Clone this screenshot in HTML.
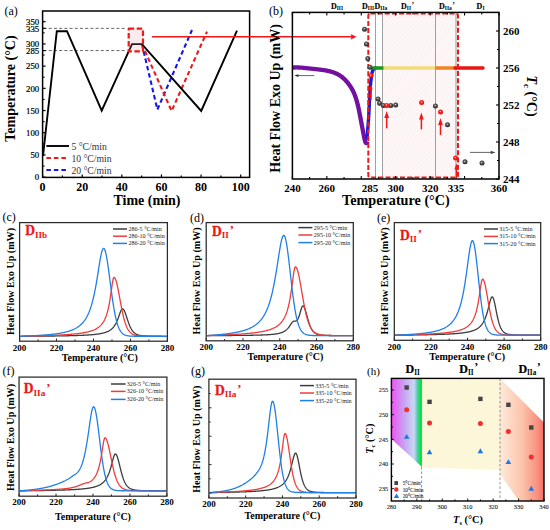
<!DOCTYPE html>
<html><head><meta charset="utf-8"><style>
html,body{margin:0;padding:0;background:#fff;}
body{width:550px;height:530px;overflow:hidden;}
svg{display:block;font-family:"Liberation Serif",serif;}
</style></head><body>
<svg width="550" height="530" viewBox="0 0 550 530">
<rect width="550" height="530" fill="#fff"/>
<line x1="43.60" y1="28.36" x2="125.00" y2="28.36" stroke="#555" stroke-width="0.9" stroke-dasharray="3,2.2"/>
<line x1="43.60" y1="50.57" x2="125.00" y2="50.57" stroke="#555" stroke-width="0.9" stroke-dasharray="3,2.2"/>
<polyline points="141.90,44.00 157.40,109.60 192.00,30.00" stroke="#1515f0" stroke-width="2.1" fill="none" stroke-dasharray="4.5,3"/>
<polyline points="141.90,44.00 171.60,111.00 207.00,31.60" stroke="#f01818" stroke-width="2.1" fill="none" stroke-dasharray="4.5,3"/>
<polyline points="43.00,156.00 56.80,31.20 67.00,31.20 101.70,110.60 132.00,44.10 141.90,44.10 201.20,111.00 237.00,30.60" stroke="#000" stroke-width="1.9" fill="none" stroke-linejoin="miter"/>
<rect x="128.7" y="28.7" width="14.3" height="22.6" fill="rgba(225,150,150,0.18)" stroke="#f01818" stroke-width="2.2" stroke-dasharray="5.5,2.5" stroke-linejoin="round"/>
<rect x="42.6" y="11.0" width="207.0" height="166.4" fill="none" stroke="#000" stroke-width="1.5"/>
<line x1="42.60" y1="177.40" x2="42.60" y2="174.40" stroke="#000" stroke-width="1.2" />
<line x1="62.41" y1="177.40" x2="62.41" y2="175.40" stroke="#000" stroke-width="1.2" />
<line x1="82.22" y1="177.40" x2="82.22" y2="174.40" stroke="#000" stroke-width="1.2" />
<line x1="102.03" y1="177.40" x2="102.03" y2="175.40" stroke="#000" stroke-width="1.2" />
<line x1="121.84" y1="177.40" x2="121.84" y2="174.40" stroke="#000" stroke-width="1.2" />
<line x1="141.65" y1="177.40" x2="141.65" y2="175.40" stroke="#000" stroke-width="1.2" />
<line x1="161.46" y1="177.40" x2="161.46" y2="174.40" stroke="#000" stroke-width="1.2" />
<line x1="181.27" y1="177.40" x2="181.27" y2="175.40" stroke="#000" stroke-width="1.2" />
<line x1="201.08" y1="177.40" x2="201.08" y2="174.40" stroke="#000" stroke-width="1.2" />
<line x1="220.89" y1="177.40" x2="220.89" y2="175.40" stroke="#000" stroke-width="1.2" />
<line x1="240.70" y1="177.40" x2="240.70" y2="174.40" stroke="#000" stroke-width="1.2" />
<text x="42.60" y="191.30" font-size="12" text-anchor="middle" font-weight="bold" fill="#000" >0</text>
<text x="82.22" y="191.30" font-size="12" text-anchor="middle" font-weight="bold" fill="#000" >20</text>
<text x="121.84" y="191.30" font-size="12" text-anchor="middle" font-weight="bold" fill="#000" >40</text>
<text x="161.46" y="191.30" font-size="12" text-anchor="middle" font-weight="bold" fill="#000" >60</text>
<text x="201.08" y="191.30" font-size="12" text-anchor="middle" font-weight="bold" fill="#000" >80</text>
<text x="240.70" y="191.30" font-size="12" text-anchor="middle" font-weight="bold" fill="#000" >100</text>
<line x1="42.60" y1="177.20" x2="45.60" y2="177.20" stroke="#000" stroke-width="1.2" />
<line x1="42.60" y1="154.98" x2="45.60" y2="154.98" stroke="#000" stroke-width="1.2" />
<line x1="42.60" y1="132.77" x2="45.60" y2="132.77" stroke="#000" stroke-width="1.2" />
<line x1="42.60" y1="110.55" x2="45.60" y2="110.55" stroke="#000" stroke-width="1.2" />
<line x1="42.60" y1="88.34" x2="45.60" y2="88.34" stroke="#000" stroke-width="1.2" />
<line x1="42.60" y1="66.12" x2="45.60" y2="66.12" stroke="#000" stroke-width="1.2" />
<line x1="42.60" y1="50.57" x2="45.60" y2="50.57" stroke="#000" stroke-width="1.2" />
<line x1="42.60" y1="43.91" x2="45.60" y2="43.91" stroke="#000" stroke-width="1.2" />
<line x1="42.60" y1="28.36" x2="45.60" y2="28.36" stroke="#000" stroke-width="1.2" />
<line x1="42.60" y1="21.69" x2="45.60" y2="21.69" stroke="#000" stroke-width="1.2" />
<line x1="42.60" y1="166.09" x2="44.60" y2="166.09" stroke="#000" stroke-width="1.1" />
<line x1="42.60" y1="143.88" x2="44.60" y2="143.88" stroke="#000" stroke-width="1.1" />
<line x1="42.60" y1="121.66" x2="44.60" y2="121.66" stroke="#000" stroke-width="1.1" />
<line x1="42.60" y1="99.45" x2="44.60" y2="99.45" stroke="#000" stroke-width="1.1" />
<line x1="42.60" y1="77.23" x2="44.60" y2="77.23" stroke="#000" stroke-width="1.1" />
<line x1="42.60" y1="55.02" x2="44.60" y2="55.02" stroke="#000" stroke-width="1.1" />
<line x1="42.60" y1="32.80" x2="44.60" y2="32.80" stroke="#000" stroke-width="1.1" />
<text x="39.20" y="179.90" font-size="8.8" text-anchor="end" font-weight="normal" fill="#000" stroke="#000" stroke-width="0.2">0</text>
<text x="39.20" y="158.40" font-size="8.8" text-anchor="end" font-weight="normal" fill="#000" stroke="#000" stroke-width="0.2">50</text>
<text x="39.20" y="136.00" font-size="8.8" text-anchor="end" font-weight="normal" fill="#000" stroke="#000" stroke-width="0.2">100</text>
<text x="39.20" y="113.60" font-size="8.8" text-anchor="end" font-weight="normal" fill="#000" stroke="#000" stroke-width="0.2">150</text>
<text x="39.20" y="91.60" font-size="8.8" text-anchor="end" font-weight="normal" fill="#000" stroke="#000" stroke-width="0.2">200</text>
<text x="39.20" y="69.40" font-size="8.8" text-anchor="end" font-weight="normal" fill="#000" stroke="#000" stroke-width="0.2">250</text>
<text x="39.20" y="47.00" font-size="8.8" text-anchor="end" font-weight="normal" fill="#000" stroke="#000" stroke-width="0.2">300</text>
<text x="39.20" y="54.00" font-size="8.8" text-anchor="end" font-weight="normal" fill="#000" stroke="#000" stroke-width="0.2">285</text>
<text x="39.20" y="24.60" font-size="8.8" text-anchor="end" font-weight="normal" fill="#000" stroke="#000" stroke-width="0.2">350</text>
<text x="39.20" y="31.60" font-size="8.8" text-anchor="end" font-weight="normal" fill="#000" stroke="#000" stroke-width="0.2">335</text>
<text transform="translate(15.3,88.6) rotate(-90)" font-size="14" font-weight="bold" text-anchor="middle">Temperature (°C)</text>
<text x="147.00" y="204.50" font-size="14" text-anchor="middle" font-weight="bold" fill="#000" >Time (min)</text>
<text x="4.40" y="15.40" font-size="12" text-anchor="start" font-weight="normal" fill="#000" >(a)</text>
<line x1="46.40" y1="146.00" x2="69.00" y2="146.00" stroke="#000" stroke-width="1.9" />
<line x1="46.40" y1="158.00" x2="66.00" y2="158.00" stroke="#f01818" stroke-width="2.1" stroke-dasharray="4.5,3"/>
<line x1="46.40" y1="170.00" x2="66.00" y2="170.00" stroke="#1515f0" stroke-width="2.1" stroke-dasharray="4.5,3"/>
<text x="71.40" y="149.60" font-size="9.7" text-anchor="start" font-weight="normal" fill="#333" >5 °C/min</text>
<text x="71.40" y="161.60" font-size="9.7" text-anchor="start" font-weight="normal" fill="#333" >10 °C/min</text>
<text x="71.40" y="173.60" font-size="9.7" text-anchor="start" font-weight="normal" fill="#333" >20 °C/min</text>
<line x1="152.00" y1="36.80" x2="353.00" y2="36.80" stroke="#f01818" stroke-width="1.4" />
<path d="M356.5,36.8 L350.5,33.9 L351.8,36.8 L350.5,39.7 Z" fill="#f01818"/>
<defs><pattern id="hatch" patternUnits="userSpaceOnUse" width="3" height="3" patternTransform="rotate(45)"><rect width="3" height="3" fill="#fef8f8"/><line x1="0" y1="0" x2="0" y2="3" stroke="#fbe8e8" stroke-width="1.1"/></pattern><radialGradient id="ball" cx="0.35" cy="0.35" r="0.7"><stop offset="0" stop-color="#cfcfcf"/><stop offset="0.45" stop-color="#4a4a4a"/><stop offset="1" stop-color="#222"/></radialGradient><radialGradient id="rball" cx="0.35" cy="0.35" r="0.7"><stop offset="0" stop-color="#ffd0d0"/><stop offset="0.45" stop-color="#f01818"/><stop offset="1" stop-color="#c00"/></radialGradient></defs>
<rect x="382" y="13.6" width="75" height="164" fill="url(#hatch)"/>
<line x1="375.50" y1="12.40" x2="375.50" y2="179.00" stroke="#a0a0a0" stroke-width="1" />
<line x1="382.50" y1="12.40" x2="382.50" y2="179.00" stroke="#a0a0a0" stroke-width="1" />
<line x1="435.50" y1="12.40" x2="435.50" y2="179.00" stroke="#a0a0a0" stroke-width="1" />
<line x1="456.00" y1="12.40" x2="456.00" y2="179.00" stroke="#c8c8c8" stroke-width="2" />
<polyline points="292.40,67.50 294.00,67.50 294.38,67.50 294.80,67.48 295.29,67.46 295.88,67.44 296.61,67.44 297.52,67.46 298.64,67.51 300.00,67.60 301.69,67.73 303.72,67.89 305.99,68.08 308.43,68.29 310.92,68.52 313.39,68.77 315.75,69.03 317.90,69.30 319.90,69.58 321.87,69.86 323.79,70.16 325.66,70.48 327.45,70.81 329.16,71.17 330.78,71.57 332.30,72.00 333.70,72.46 334.97,72.94 336.15,73.44 337.26,73.97 338.30,74.54 339.31,75.14 340.30,75.80 341.30,76.50 342.29,77.26 343.25,78.07 344.18,78.92 345.07,79.82 345.95,80.75 346.79,81.71 347.61,82.70 348.40,83.70 349.17,84.73 349.91,85.78 350.63,86.87 351.32,87.98 351.98,89.12 352.62,90.29 353.22,91.48 353.80,92.70 354.34,93.94 354.85,95.21 355.32,96.50 355.77,97.83 356.20,99.17 356.61,100.55 357.01,101.96 357.40,103.40 357.78,104.87 358.14,106.38 358.48,107.91 358.81,109.48 359.13,111.07 359.45,112.69 359.77,114.33 360.10,116.00 360.44,117.73 360.79,119.54 361.13,121.40 361.48,123.27 361.82,125.13 362.16,126.94 362.49,128.67 362.80,130.30 363.10,131.87 363.40,133.43 363.69,134.95 363.97,136.41 364.24,137.77 364.50,139.01 364.76,140.09 365.00,141.00 365.23,141.71 365.46,142.24 365.67,142.62 365.88,142.87 366.07,143.03 366.26,143.12 366.43,143.17 366.60,143.20 366.76,143.16 366.92,143.01 367.06,142.77 367.20,142.49 367.32,142.18 367.43,141.90 367.53,141.66 367.60,141.50" stroke="#7410a0" stroke-width="4.3" fill="none" stroke-linecap="butt" stroke-linejoin="round"/>
<polyline points="367.00,138.00 367.12,136.50 367.29,134.57 367.49,132.27 367.71,129.69 367.94,126.89 368.18,123.96 368.40,120.97 368.60,118.00 368.78,114.89 368.96,111.49 369.13,107.92 369.29,104.27 369.46,100.65 369.63,97.16 369.81,93.91 370.00,91.00 370.20,88.38 370.40,85.92 370.61,83.62 370.82,81.50 371.04,79.54 371.26,77.76 371.48,76.14 371.70,74.70 371.92,73.48 372.14,72.49 372.36,71.70 372.58,71.06 372.81,70.55 373.03,70.11 373.26,69.70 373.50,69.30 373.75,68.93 374.03,68.66 374.32,68.46 374.61,68.31 374.89,68.21 375.14,68.14 375.34,68.07 375.50,68.00" stroke="#1818e0" stroke-width="3.4" fill="none" stroke-linecap="round"/>
<line x1="373.50" y1="68.00" x2="383.40" y2="68.00" stroke="#179a17" stroke-width="3.5" stroke-linecap="round"/>
<line x1="383.40" y1="68.00" x2="435.00" y2="68.00" stroke="#f0dc78" stroke-width="3.5" />
<line x1="435.00" y1="68.00" x2="455.00" y2="68.00" stroke="#f08420" stroke-width="3.5" />
<line x1="455.00" y1="68.00" x2="483.00" y2="68.00" stroke="#e81414" stroke-width="3.5" stroke-linecap="round"/>
<rect x="368.3" y="13.6" width="89.7" height="164" fill="none" stroke="#f01818" stroke-width="2" stroke-dasharray="5,2.2" rx="2"/>
<defs><radialGradient id="ball2" cx="0.45" cy="0.4" r="0.6"><stop offset="0" stop-color="#e8e8e8"/><stop offset="0.3" stop-color="#606060"/><stop offset="1" stop-color="#262626"/></radialGradient><radialGradient id="rball2" cx="0.45" cy="0.4" r="0.6"><stop offset="0" stop-color="#ffe8e8"/><stop offset="0.3" stop-color="#f53030"/><stop offset="1" stop-color="#e00"/></radialGradient></defs>
<circle cx="364.5" cy="29.2" r="2.5" fill="url(#ball2)"/>
<circle cx="366.4" cy="43.9" r="2.5" fill="url(#ball2)"/>
<circle cx="367.8" cy="58.6" r="2.5" fill="url(#ball2)"/>
<circle cx="370" cy="67.2" r="2.5" fill="url(#ball2)"/>
<circle cx="378" cy="99" r="2.5" fill="url(#ball2)"/>
<circle cx="379.6" cy="103.2" r="2.5" fill="url(#ball2)"/>
<circle cx="383.3" cy="105.4" r="2.5" fill="url(#ball2)"/>
<circle cx="390.8" cy="105.4" r="2.5" fill="url(#ball2)"/>
<circle cx="395.7" cy="105" r="2.5" fill="url(#ball2)"/>
<circle cx="435.4" cy="106" r="2.5" fill="url(#ball2)"/>
<circle cx="447.5" cy="124.7" r="2.5" fill="url(#ball2)"/>
<circle cx="465" cy="161.8" r="2.5" fill="url(#ball2)"/>
<circle cx="482" cy="163" r="2.5" fill="url(#ball2)"/>
<circle cx="370.9" cy="75.6" r="2.5" fill="url(#rball2)"/>
<circle cx="386.7" cy="105.4" r="2.5" fill="url(#rball2)"/>
<circle cx="421.6" cy="102.5" r="2.5" fill="url(#rball2)"/>
<circle cx="440.5" cy="112" r="2.5" fill="url(#rball2)"/>
<circle cx="455.6" cy="158" r="2.5" fill="url(#rball2)"/>
<line x1="370.90" y1="100.00" x2="370.90" y2="89.10" stroke="#f01818" stroke-width="1.5" />
<path d="M370.9,84.6 L369.09999999999997,89.6 L372.7,89.6 Z" fill="#f01818"/>
<line x1="386.70" y1="128.40" x2="386.70" y2="117.50" stroke="#f01818" stroke-width="1.5" />
<path d="M386.7,111 L384.3,118 L389.09999999999997,118 Z" fill="#f01818"/>
<line x1="421.40" y1="129.40" x2="421.40" y2="118.90" stroke="#f01818" stroke-width="1.5" />
<path d="M421.4,112.4 L419.0,119.4 L423.79999999999995,119.4 Z" fill="#f01818"/>
<line x1="440.50" y1="135.00" x2="440.50" y2="124.50" stroke="#f01818" stroke-width="1.5" />
<path d="M440.5,118 L438.1,125 L442.9,125 Z" fill="#f01818"/>
<line x1="456.40" y1="178.00" x2="456.40" y2="169.00" stroke="#f01818" stroke-width="1.5" />
<path d="M456.4,163.5 L454.4,169.5 L458.4,169.5 Z" fill="#f01818"/>
<line x1="298.00" y1="75.60" x2="314.30" y2="75.60" stroke="#555" stroke-width="0.9" />
<path d="M294.4,75.6 L298.4,74.2 L298.4,77.0 Z" fill="#222"/>
<line x1="470.00" y1="152.40" x2="492.00" y2="152.40" stroke="#555" stroke-width="0.9" />
<path d="M495.5,152.4 L490.7,150.7 L490.7,154.1 Z" fill="#444"/>
<rect x="292.4" y="12.4" width="206.60000000000002" height="166.6" fill="none" stroke="#000" stroke-width="1.5"/>
<line x1="292.40" y1="179.00" x2="292.40" y2="176.00" stroke="#000" stroke-width="1.1" />
<line x1="292.40" y1="12.40" x2="292.40" y2="15.40" stroke="#000" stroke-width="1.1" />
<line x1="309.62" y1="179.00" x2="309.62" y2="177.00" stroke="#000" stroke-width="1.1" />
<line x1="309.62" y1="12.40" x2="309.62" y2="14.40" stroke="#000" stroke-width="1.1" />
<line x1="326.83" y1="179.00" x2="326.83" y2="176.00" stroke="#000" stroke-width="1.1" />
<line x1="326.83" y1="12.40" x2="326.83" y2="15.40" stroke="#000" stroke-width="1.1" />
<line x1="344.05" y1="179.00" x2="344.05" y2="177.00" stroke="#000" stroke-width="1.1" />
<line x1="344.05" y1="12.40" x2="344.05" y2="14.40" stroke="#000" stroke-width="1.1" />
<line x1="361.27" y1="179.00" x2="361.27" y2="176.00" stroke="#000" stroke-width="1.1" />
<line x1="361.27" y1="12.40" x2="361.27" y2="15.40" stroke="#000" stroke-width="1.1" />
<line x1="378.48" y1="179.00" x2="378.48" y2="177.00" stroke="#000" stroke-width="1.1" />
<line x1="378.48" y1="12.40" x2="378.48" y2="14.40" stroke="#000" stroke-width="1.1" />
<line x1="395.70" y1="179.00" x2="395.70" y2="176.00" stroke="#000" stroke-width="1.1" />
<line x1="395.70" y1="12.40" x2="395.70" y2="15.40" stroke="#000" stroke-width="1.1" />
<line x1="412.92" y1="179.00" x2="412.92" y2="177.00" stroke="#000" stroke-width="1.1" />
<line x1="412.92" y1="12.40" x2="412.92" y2="14.40" stroke="#000" stroke-width="1.1" />
<line x1="430.14" y1="179.00" x2="430.14" y2="176.00" stroke="#000" stroke-width="1.1" />
<line x1="430.14" y1="12.40" x2="430.14" y2="15.40" stroke="#000" stroke-width="1.1" />
<line x1="447.35" y1="179.00" x2="447.35" y2="177.00" stroke="#000" stroke-width="1.1" />
<line x1="447.35" y1="12.40" x2="447.35" y2="14.40" stroke="#000" stroke-width="1.1" />
<line x1="464.57" y1="179.00" x2="464.57" y2="176.00" stroke="#000" stroke-width="1.1" />
<line x1="464.57" y1="12.40" x2="464.57" y2="15.40" stroke="#000" stroke-width="1.1" />
<line x1="481.79" y1="179.00" x2="481.79" y2="177.00" stroke="#000" stroke-width="1.1" />
<line x1="481.79" y1="12.40" x2="481.79" y2="14.40" stroke="#000" stroke-width="1.1" />
<line x1="499.00" y1="179.00" x2="499.00" y2="176.00" stroke="#000" stroke-width="1.1" />
<line x1="499.00" y1="12.40" x2="499.00" y2="15.40" stroke="#000" stroke-width="1.1" />
<text x="292.40" y="192.00" font-size="11" text-anchor="middle" font-weight="bold" fill="#000" >240</text>
<text x="326.83" y="192.00" font-size="11" text-anchor="middle" font-weight="bold" fill="#000" >260</text>
<text x="369.88" y="192.00" font-size="11" text-anchor="middle" font-weight="bold" fill="#000" >285</text>
<text x="395.70" y="192.00" font-size="11" text-anchor="middle" font-weight="bold" fill="#000" >300</text>
<text x="430.14" y="192.00" font-size="11" text-anchor="middle" font-weight="bold" fill="#000" >320</text>
<text x="455.96" y="192.00" font-size="11" text-anchor="middle" font-weight="bold" fill="#000" >335</text>
<text x="499.00" y="192.00" font-size="11" text-anchor="middle" font-weight="bold" fill="#000" >360</text>
<line x1="499.00" y1="179.00" x2="496.00" y2="179.00" stroke="#000" stroke-width="1.1" />
<line x1="499.00" y1="160.50" x2="497.00" y2="160.50" stroke="#000" stroke-width="1.1" />
<line x1="499.00" y1="142.00" x2="496.00" y2="142.00" stroke="#000" stroke-width="1.1" />
<line x1="499.00" y1="123.50" x2="497.00" y2="123.50" stroke="#000" stroke-width="1.1" />
<line x1="499.00" y1="105.00" x2="496.00" y2="105.00" stroke="#000" stroke-width="1.1" />
<line x1="499.00" y1="86.50" x2="497.00" y2="86.50" stroke="#000" stroke-width="1.1" />
<line x1="499.00" y1="68.00" x2="496.00" y2="68.00" stroke="#000" stroke-width="1.1" />
<line x1="499.00" y1="49.50" x2="497.00" y2="49.50" stroke="#000" stroke-width="1.1" />
<line x1="499.00" y1="31.00" x2="496.00" y2="31.00" stroke="#000" stroke-width="1.1" />
<line x1="499.00" y1="12.50" x2="497.00" y2="12.50" stroke="#000" stroke-width="1.1" />
<text x="503.00" y="183.00" font-size="11" text-anchor="start" font-weight="bold" fill="#000" >244</text>
<text x="503.00" y="146.00" font-size="11" text-anchor="start" font-weight="bold" fill="#000" >248</text>
<text x="503.00" y="109.00" font-size="11" text-anchor="start" font-weight="bold" fill="#000" >252</text>
<text x="503.00" y="72.00" font-size="11" text-anchor="start" font-weight="bold" fill="#000" >256</text>
<text x="503.00" y="35.00" font-size="11" text-anchor="start" font-weight="bold" fill="#000" >260</text>
<text transform="translate(279.6,98.4) rotate(-90)" font-size="14" font-weight="bold" text-anchor="middle">Heat Flow Exo Up (mW)</text>
<text transform="translate(526.5,96) rotate(90)" font-size="14" font-weight="bold" text-anchor="middle"><tspan font-style="italic">T</tspan><tspan font-size="9" dy="3">c</tspan><tspan dy="-3"> (°C)</tspan></text>
<text x="395.90" y="205.30" font-size="14.2" text-anchor="middle" font-weight="bold" fill="#000" >Temperature (°C)</text>
<text x="269.10" y="15.20" font-size="12" text-anchor="start" font-weight="normal" fill="#000" >(b)</text>
<text transform="translate(330.9,8.7) scale(1,1.03)" font-size="8" font-weight="bold" fill="#000" stroke="#000" stroke-width="0.16">D</text>
<text x="336.68" y="10.30" font-size="5.44" font-weight="bold" fill="#000">III</text>
<text transform="translate(362,8.7) scale(1,1.03)" font-size="8" font-weight="bold" fill="#000" stroke="#000" stroke-width="0.16">D</text>
<text x="367.78" y="10.30" font-size="5.44" font-weight="bold" fill="#000">III</text>
<text transform="translate(374.5,8.7) scale(1,1.03)" font-size="8" font-weight="bold" fill="#000" stroke="#000" stroke-width="0.16">D</text>
<text x="380.28" y="10.30" font-size="5.44" font-weight="bold" fill="#000">IIa</text>
<text transform="translate(401,8.7) scale(1,1.03)" font-size="8" font-weight="bold" fill="#000" stroke="#000" stroke-width="0.16">D</text>
<text x="406.78" y="10.30" font-size="5.44" font-weight="bold" fill="#000">II</text>
<text x="411.41" y="7.90" font-size="8" font-weight="bold" fill="#000">’</text>
<text transform="translate(439,8.7) scale(1,1.03)" font-size="8" font-weight="bold" fill="#000" stroke="#000" stroke-width="0.16">D</text>
<text x="444.78" y="10.30" font-size="5.44" font-weight="bold" fill="#000">IIa</text>
<text x="452.13" y="7.90" font-size="8" font-weight="bold" fill="#000">’</text>
<text transform="translate(476.6,8.7) scale(1,1.03)" font-size="8" font-weight="bold" fill="#000" stroke="#000" stroke-width="0.16">D</text>
<text x="482.38" y="10.30" font-size="5.44" font-weight="bold" fill="#000">I</text>
<polyline points="20.34,336.30 20.80,336.30 21.26,336.29 21.72,336.29 22.19,336.29 22.65,336.28 23.11,336.28 23.57,336.28 24.03,336.28 24.50,336.27 24.96,336.27 25.42,336.27 25.88,336.26 26.34,336.26 26.81,336.26 27.27,336.25 27.73,336.25 28.19,336.25 28.65,336.24 29.11,336.24 29.58,336.24 30.04,336.23 30.50,336.23 30.96,336.22 31.42,336.22 31.89,336.22 32.35,336.21 32.81,336.21 33.27,336.21 33.73,336.20 34.20,336.20 34.66,336.19 35.12,336.19 35.58,336.19 36.04,336.18 36.50,336.18 36.97,336.18 37.43,336.17 37.89,336.17 38.35,336.16 38.81,336.16 39.28,336.15 39.74,336.15 40.20,336.15 40.66,336.14 41.12,336.14 41.59,336.13 42.05,336.13 42.51,336.12 42.97,336.12 43.43,336.11 43.89,336.11 44.36,336.10 44.82,336.10 45.28,336.09 45.74,336.09 46.20,336.09 46.67,336.08 47.13,336.07 47.59,336.07 48.05,336.06 48.51,336.06 48.98,336.05 49.44,336.05 49.90,336.04 50.36,336.04 50.82,336.03 51.28,336.03 51.75,336.02 52.21,336.01 52.67,336.01 53.13,336.00 53.59,336.00 54.06,335.99 54.52,335.98 54.98,335.98 55.44,335.97 55.90,335.96 56.37,335.96 56.83,335.95 57.29,335.94 57.75,335.94 58.21,335.93 58.67,335.92 59.14,335.92 59.60,335.91 60.06,335.90 60.52,335.89 60.98,335.89 61.45,335.88 61.91,335.87 62.37,335.86 62.83,335.85 63.29,335.84 63.76,335.84 64.22,335.83 64.68,335.82 65.14,335.81 65.60,335.80 66.06,335.79 66.53,335.78 66.99,335.77 67.45,335.76 67.91,335.75 68.37,335.74 68.84,335.73 69.30,335.72 69.76,335.71 70.22,335.70 70.68,335.69 71.15,335.68 71.61,335.66 72.07,335.65 72.53,335.64 72.99,335.63 73.45,335.61 73.92,335.60 74.38,335.59 74.84,335.57 75.30,335.56 75.76,335.55 76.23,335.53 76.69,335.52 77.15,335.50 77.61,335.48 78.07,335.47 78.54,335.45 79.00,335.44 79.46,335.42 79.92,335.40 80.38,335.38 80.84,335.36 81.31,335.34 81.77,335.32 82.23,335.30 82.69,335.28 83.15,335.26 83.62,335.24 84.08,335.22 84.54,335.19 85.00,335.17 85.46,335.15 85.93,335.12 86.39,335.09 86.85,335.07 87.31,335.04 87.77,335.01 88.23,334.98 88.70,334.95 89.16,334.92 89.62,334.89 90.08,334.85 90.54,334.82 91.01,334.78 91.47,334.74 91.93,334.71 92.39,334.66 92.85,334.62 93.32,334.58 93.78,334.53 94.24,334.49 94.70,334.44 95.16,334.39 95.62,334.34 96.09,334.28 96.55,334.22 97.01,334.16 97.47,334.10 97.93,334.04 98.40,333.97 98.86,333.90 99.32,333.82 99.78,333.75 100.24,333.66 100.71,333.58 101.17,333.49 101.63,333.39 102.09,333.29 102.55,333.19 103.01,333.08 103.48,332.96 103.94,332.83 104.40,332.70 104.86,332.56 105.32,332.41 105.79,332.26 106.25,332.09 106.71,331.91 107.17,331.72 107.63,331.52 108.10,331.30 108.56,331.07 109.02,330.82 109.48,330.55 109.94,330.27 110.40,329.96 110.87,329.62 111.33,329.26 111.79,328.86 112.25,328.44 112.71,327.98 113.18,327.47 113.64,326.92 114.10,326.33 114.56,325.68 115.02,324.96 115.49,324.19 115.95,323.34 116.41,322.42 116.87,321.43 117.33,320.35 117.79,319.19 118.26,317.97 118.72,316.68 119.18,315.36 119.64,314.03 120.10,312.73 120.57,311.53 121.03,310.47 121.49,309.64 121.95,309.08 122.41,308.85 122.88,308.93 123.34,309.26 123.80,309.84 124.26,310.64 124.72,311.62 125.18,312.77 125.65,314.04 126.11,315.40 126.57,316.81 127.03,318.24 127.49,319.66 127.96,321.04 128.42,322.38 128.88,323.65 129.34,324.84 129.80,325.96 130.27,326.99 130.73,327.93 131.19,328.79 131.65,329.58 132.11,330.28 132.57,330.92 133.04,331.49 133.50,332.01 133.96,332.46 134.42,332.87 134.88,333.24 135.35,333.56 135.81,333.85 136.27,334.10 136.73,334.33 137.19,334.54 137.66,334.72 138.12,334.88 138.58,335.02 139.04,335.15 139.50,335.26 139.96,335.36 140.43,335.45 140.89,335.53 141.35,335.60 141.81,335.67 142.27,335.73 142.74,335.78 143.20,335.83 143.66,335.87 144.12,335.91 144.58,335.94 145.05,335.97 145.51,336.00 145.97,336.02 146.43,336.05 146.89,336.07 147.35,336.09 147.82,336.10 148.28,336.12 148.74,336.13 149.20,336.15 149.66,336.16 150.13,336.17 150.59,336.18 151.05,336.19 151.51,336.20 151.97,336.20 152.44,336.21 152.90,336.22 153.36,336.22 153.82,336.23 154.28,336.23 154.74,336.24 155.21,336.24 155.67,336.25 156.13,336.25 156.59,336.25 157.05,336.25 157.52,336.26 157.98,336.26 158.44,336.26 158.90,336.27 159.36,336.27 159.83,336.27 160.29,336.27 160.75,336.27 161.21,336.27 161.67,336.28 162.13,336.28 162.60,336.28 163.06,336.28 163.52,336.28 163.98,336.28 164.44,336.28 164.91,336.28 165.37,336.28 165.83,336.29 166.29,336.29 166.75,336.29" stroke="#3c3c3c" stroke-width="1.3" fill="none" stroke-linejoin="round"/>
<polyline points="20.34,336.30 20.80,336.29 21.26,336.28 21.72,336.27 22.19,336.26 22.65,336.25 23.11,336.24 23.57,336.23 24.03,336.22 24.50,336.21 24.96,336.20 25.42,336.19 25.88,336.18 26.34,336.17 26.81,336.16 27.27,336.14 27.73,336.13 28.19,336.12 28.65,336.11 29.11,336.10 29.58,336.09 30.04,336.08 30.50,336.07 30.96,336.05 31.42,336.04 31.89,336.03 32.35,336.02 32.81,336.01 33.27,335.99 33.73,335.98 34.20,335.97 34.66,335.96 35.12,335.94 35.58,335.93 36.04,335.92 36.50,335.91 36.97,335.89 37.43,335.88 37.89,335.87 38.35,335.85 38.81,335.84 39.28,335.83 39.74,335.81 40.20,335.80 40.66,335.78 41.12,335.77 41.59,335.76 42.05,335.74 42.51,335.73 42.97,335.71 43.43,335.70 43.89,335.68 44.36,335.67 44.82,335.65 45.28,335.63 45.74,335.62 46.20,335.60 46.67,335.59 47.13,335.57 47.59,335.55 48.05,335.54 48.51,335.52 48.98,335.50 49.44,335.48 49.90,335.47 50.36,335.45 50.82,335.43 51.28,335.41 51.75,335.39 52.21,335.37 52.67,335.36 53.13,335.34 53.59,335.32 54.06,335.30 54.52,335.28 54.98,335.26 55.44,335.23 55.90,335.21 56.37,335.19 56.83,335.17 57.29,335.15 57.75,335.12 58.21,335.10 58.67,335.08 59.14,335.06 59.60,335.03 60.06,335.01 60.52,334.98 60.98,334.96 61.45,334.93 61.91,334.91 62.37,334.88 62.83,334.85 63.29,334.82 63.76,334.80 64.22,334.77 64.68,334.74 65.14,334.71 65.60,334.68 66.06,334.65 66.53,334.62 66.99,334.59 67.45,334.55 67.91,334.52 68.37,334.49 68.84,334.45 69.30,334.42 69.76,334.38 70.22,334.34 70.68,334.30 71.15,334.27 71.61,334.23 72.07,334.19 72.53,334.15 72.99,334.10 73.45,334.06 73.92,334.02 74.38,333.97 74.84,333.92 75.30,333.88 75.76,333.83 76.23,333.78 76.69,333.73 77.15,333.67 77.61,333.62 78.07,333.56 78.54,333.51 79.00,333.45 79.46,333.39 79.92,333.33 80.38,333.26 80.84,333.20 81.31,333.13 81.77,333.06 82.23,332.99 82.69,332.91 83.15,332.83 83.62,332.75 84.08,332.67 84.54,332.59 85.00,332.50 85.46,332.41 85.93,332.32 86.39,332.22 86.85,332.12 87.31,332.01 87.77,331.90 88.23,331.79 88.70,331.67 89.16,331.55 89.62,331.42 90.08,331.29 90.54,331.15 91.01,331.00 91.47,330.85 91.93,330.69 92.39,330.53 92.85,330.35 93.32,330.17 93.78,329.98 94.24,329.78 94.70,329.57 95.16,329.35 95.62,329.11 96.09,328.86 96.55,328.60 97.01,328.33 97.47,328.03 97.93,327.72 98.40,327.39 98.86,327.04 99.32,326.66 99.78,326.26 100.24,325.83 100.71,325.37 101.17,324.88 101.63,324.35 102.09,323.77 102.55,323.16 103.01,322.49 103.48,321.76 103.94,320.97 104.40,320.11 104.86,319.17 105.32,318.13 105.79,317.00 106.25,315.76 106.71,314.38 107.17,312.87 107.63,311.19 108.10,309.33 108.56,307.28 109.02,305.01 109.48,302.51 109.94,299.78 110.40,296.82 110.87,293.67 111.33,290.39 111.79,287.10 112.25,283.95 112.71,281.17 113.18,279.00 113.64,277.69 114.10,277.37 114.56,277.62 115.02,278.21 115.49,279.13 115.95,280.36 116.41,281.88 116.87,283.66 117.33,285.66 117.79,287.84 118.26,290.17 118.72,292.61 119.18,295.12 119.64,297.66 120.10,300.22 120.57,302.74 121.03,305.22 121.49,307.63 121.95,309.94 122.41,312.15 122.88,314.25 123.34,316.22 123.80,318.07 124.26,319.79 124.72,321.39 125.18,322.86 125.65,324.20 126.11,325.44 126.57,326.56 127.03,327.58 127.49,328.50 127.96,329.34 128.42,330.09 128.88,330.76 129.34,331.37 129.80,331.91 130.27,332.39 130.73,332.83 131.19,333.21 131.65,333.55 132.11,333.86 132.57,334.13 133.04,334.37 133.50,334.59 133.96,334.78 134.42,334.95 134.88,335.10 135.35,335.23 135.81,335.35 136.27,335.45 136.73,335.54 137.19,335.63 137.66,335.70 138.12,335.76 138.58,335.82 139.04,335.87 139.50,335.92 139.96,335.96 140.43,335.99 140.89,336.03 141.35,336.05 141.81,336.08 142.27,336.10 142.74,336.12 143.20,336.14 143.66,336.16 144.12,336.17 144.58,336.18 145.05,336.20 145.51,336.21 145.97,336.21 146.43,336.22 146.89,336.23 147.35,336.24 147.82,336.24 148.28,336.25 148.74,336.25 149.20,336.26 149.66,336.26 150.13,336.26 150.59,336.27 151.05,336.27 151.51,336.27 151.97,336.28 152.44,336.28 152.90,336.28 153.36,336.28 153.82,336.28 154.28,336.28 154.74,336.29 155.21,336.29 155.67,336.29 156.13,336.29 156.59,336.29 157.05,336.29 157.52,336.29 157.98,336.29 158.44,336.29 158.90,336.29 159.36,336.29 159.83,336.29 160.29,336.29 160.75,336.30 161.21,336.30 161.67,336.30 162.13,336.30 162.60,336.30 163.06,336.30 163.52,336.30 163.98,336.30 164.44,336.30 164.91,336.30 165.37,336.30 165.83,336.30 166.29,336.30 166.75,336.30" stroke="#f03c3c" stroke-width="1.3" fill="none" stroke-linejoin="round"/>
<polyline points="20.34,336.30 20.80,336.28 21.26,336.27 21.72,336.25 22.19,336.23 22.65,336.21 23.11,336.20 23.57,336.18 24.03,336.16 24.50,336.14 24.96,336.12 25.42,336.10 25.88,336.08 26.34,336.06 26.81,336.04 27.27,336.02 27.73,336.00 28.19,335.98 28.65,335.96 29.11,335.94 29.58,335.92 30.04,335.90 30.50,335.88 30.96,335.86 31.42,335.83 31.89,335.81 32.35,335.79 32.81,335.76 33.27,335.74 33.73,335.72 34.20,335.69 34.66,335.67 35.12,335.64 35.58,335.61 36.04,335.59 36.50,335.56 36.97,335.53 37.43,335.51 37.89,335.48 38.35,335.45 38.81,335.42 39.28,335.39 39.74,335.36 40.20,335.33 40.66,335.30 41.12,335.27 41.59,335.24 42.05,335.21 42.51,335.17 42.97,335.14 43.43,335.11 43.89,335.07 44.36,335.04 44.82,335.00 45.28,334.96 45.74,334.92 46.20,334.89 46.67,334.85 47.13,334.81 47.59,334.77 48.05,334.72 48.51,334.68 48.98,334.64 49.44,334.59 49.90,334.55 50.36,334.50 50.82,334.45 51.28,334.40 51.75,334.35 52.21,334.30 52.67,334.25 53.13,334.20 53.59,334.14 54.06,334.09 54.52,334.03 54.98,333.97 55.44,333.91 55.90,333.85 56.37,333.79 56.83,333.72 57.29,333.66 57.75,333.59 58.21,333.52 58.67,333.45 59.14,333.37 59.60,333.30 60.06,333.22 60.52,333.14 60.98,333.06 61.45,332.97 61.91,332.88 62.37,332.79 62.83,332.70 63.29,332.60 63.76,332.51 64.22,332.40 64.68,332.30 65.14,332.19 65.60,332.08 66.06,331.96 66.53,331.85 66.99,331.72 67.45,331.59 67.91,331.46 68.37,331.33 68.84,331.19 69.30,331.04 69.76,330.89 70.22,330.73 70.68,330.57 71.15,330.40 71.61,330.22 72.07,330.04 72.53,329.85 72.99,329.66 73.45,329.45 73.92,329.24 74.38,329.02 74.84,328.79 75.30,328.55 75.76,328.29 76.23,328.03 76.69,327.76 77.15,327.47 77.61,327.17 78.07,326.86 78.54,326.54 79.00,326.19 79.46,325.84 79.92,325.46 80.38,325.07 80.84,324.65 81.31,324.22 81.77,323.76 82.23,323.28 82.69,322.77 83.15,322.24 83.62,321.68 84.08,321.09 84.54,320.46 85.00,319.80 85.46,319.10 85.93,318.37 86.39,317.59 86.85,316.76 87.31,315.88 87.77,314.96 88.23,313.97 88.70,312.93 89.16,311.82 89.62,310.65 90.08,309.40 90.54,308.08 91.01,306.67 91.47,305.17 91.93,303.59 92.39,301.90 92.85,300.12 93.32,298.23 93.78,296.23 94.24,294.11 94.70,291.88 95.16,289.54 95.62,287.08 96.09,284.51 96.55,281.84 97.01,279.08 97.47,276.25 97.93,273.35 98.40,270.43 98.86,267.50 99.32,264.61 99.78,261.81 100.24,259.14 100.71,256.64 101.17,254.39 101.63,252.43 102.09,250.81 102.55,249.58 103.01,248.77 103.48,248.41 103.94,248.51 104.40,249.03 104.86,249.98 105.32,251.32 105.79,253.05 106.25,255.13 106.71,257.54 107.17,260.23 107.63,263.18 108.10,266.33 108.56,269.65 109.02,273.10 109.48,276.64 109.94,280.21 110.40,283.80 110.87,287.37 111.33,290.87 111.79,294.29 112.25,297.61 112.71,300.80 113.18,303.84 113.64,306.73 114.10,309.46 114.56,312.02 115.02,314.40 115.49,316.61 115.95,318.65 116.41,320.53 116.87,322.25 117.33,323.81 117.79,325.23 118.26,326.51 118.72,327.66 119.18,328.70 119.64,329.62 120.10,330.45 120.57,331.18 121.03,331.83 121.49,332.40 121.95,332.91 122.41,333.35 122.88,333.74 123.34,334.09 123.80,334.38 124.26,334.65 124.72,334.87 125.18,335.07 125.65,335.24 126.11,335.39 126.57,335.51 127.03,335.63 127.49,335.72 127.96,335.80 128.42,335.87 128.88,335.93 129.34,335.99 129.80,336.03 130.27,336.07 130.73,336.10 131.19,336.13 131.65,336.16 132.11,336.18 132.57,336.19 133.04,336.21 133.50,336.22 133.96,336.23 134.42,336.24 134.88,336.25 135.35,336.26 135.81,336.26 136.27,336.27 136.73,336.27 137.19,336.28 137.66,336.28 138.12,336.28 138.58,336.29 139.04,336.29 139.50,336.29 139.96,336.29 140.43,336.29 140.89,336.29 141.35,336.29 141.81,336.30 142.27,336.30 142.74,336.30 143.20,336.30 143.66,336.30 144.12,336.30 144.58,336.30 145.05,336.30 145.51,336.30 145.97,336.30 146.43,336.30 146.89,336.30 147.35,336.30 147.82,336.30 148.28,336.30 148.74,336.30 149.20,336.30 149.66,336.30 150.13,336.30 150.59,336.30 151.05,336.30 151.51,336.30 151.97,336.30 152.44,336.30 152.90,336.30 153.36,336.30 153.82,336.30 154.28,336.30 154.74,336.30 155.21,336.30 155.67,336.30 156.13,336.30 156.59,336.30 157.05,336.30 157.52,336.30 157.98,336.30 158.44,336.30 158.90,336.30 159.36,336.30 159.83,336.30 160.29,336.30 160.75,336.30 161.21,336.30 161.67,336.30 162.13,336.30 162.60,336.30 163.06,336.30 163.52,336.30 163.98,336.30 164.44,336.30 164.91,336.30 165.37,336.30 165.83,336.30 166.29,336.30 166.75,336.30" stroke="#1f80e8" stroke-width="1.3" fill="none" stroke-linejoin="round"/>
<rect x="19.6" y="222.6" width="147.80" height="118.60" fill="none" stroke="#2a2a2a" stroke-width="1.25"/>
<line x1="19.60" y1="341.20" x2="19.60" y2="338.60" stroke="#2a2a2a" stroke-width="1" />
<line x1="38.08" y1="341.20" x2="38.08" y2="339.40" stroke="#2a2a2a" stroke-width="1" />
<line x1="56.55" y1="341.20" x2="56.55" y2="338.60" stroke="#2a2a2a" stroke-width="1" />
<line x1="75.03" y1="341.20" x2="75.03" y2="339.40" stroke="#2a2a2a" stroke-width="1" />
<line x1="93.50" y1="341.20" x2="93.50" y2="338.60" stroke="#2a2a2a" stroke-width="1" />
<line x1="111.98" y1="341.20" x2="111.98" y2="339.40" stroke="#2a2a2a" stroke-width="1" />
<line x1="130.45" y1="341.20" x2="130.45" y2="338.60" stroke="#2a2a2a" stroke-width="1" />
<line x1="148.92" y1="341.20" x2="148.92" y2="339.40" stroke="#2a2a2a" stroke-width="1" />
<line x1="167.40" y1="341.20" x2="167.40" y2="338.60" stroke="#2a2a2a" stroke-width="1" />
<text x="19.60" y="350.50" font-size="9" text-anchor="middle" font-weight="bold" fill="#000" >200</text>
<text x="56.55" y="350.50" font-size="9" text-anchor="middle" font-weight="bold" fill="#000" >220</text>
<text x="93.50" y="350.50" font-size="9" text-anchor="middle" font-weight="bold" fill="#000" >240</text>
<text x="130.45" y="350.50" font-size="9" text-anchor="middle" font-weight="bold" fill="#000" >260</text>
<text x="167.40" y="350.50" font-size="9" text-anchor="middle" font-weight="bold" fill="#000" >280</text>
<text x="99.80" y="361.40" font-size="10.0" text-anchor="middle" font-weight="bold" fill="#000" >Temperature (°C)</text>
<text transform="translate(14.00,281.50) rotate(-90)" font-size="10.1" font-weight="bold" text-anchor="middle">Heat Flow Exo Up (mW)</text>
<text x="2.40" y="221.20" font-size="12" text-anchor="start" font-weight="normal" fill="#000" >(c)</text>
<text transform="translate(25.2,235.2) scale(1,1.03)" font-size="13.5" font-weight="bold" fill="#f01414" stroke="#f01414" stroke-width="0.27">D</text>
<text x="34.95" y="237.90" font-size="9.18" font-weight="bold" fill="#f01414">IIb</text>
<line x1="113.00" y1="229.00" x2="127.00" y2="229.00" stroke="#3c3c3c" stroke-width="1.5" />
<text x="128.40" y="231.00" font-size="6.1" text-anchor="start" font-weight="normal" fill="#222" >286-5 °C/min</text>
<line x1="113.00" y1="236.20" x2="127.00" y2="236.20" stroke="#f03c3c" stroke-width="1.5" />
<text x="128.40" y="238.20" font-size="6.1" text-anchor="start" font-weight="normal" fill="#222" >286-10 °C/min</text>
<line x1="113.00" y1="243.40" x2="127.00" y2="243.40" stroke="#1f80e8" stroke-width="1.5" />
<text x="128.40" y="245.40" font-size="6.1" text-anchor="start" font-weight="normal" fill="#222" >286-20 °C/min</text>
<polyline points="206.94,335.60 207.40,335.60 207.85,335.60 208.31,335.60 208.77,335.59 209.23,335.59 209.69,335.59 210.15,335.59 210.61,335.59 211.07,335.59 211.53,335.58 211.99,335.58 212.45,335.58 212.91,335.58 213.37,335.58 213.83,335.57 214.29,335.57 214.75,335.57 215.21,335.57 215.67,335.57 216.13,335.56 216.59,335.56 217.05,335.56 217.51,335.56 217.97,335.56 218.43,335.55 218.89,335.55 219.35,335.55 219.81,335.55 220.27,335.55 220.73,335.54 221.19,335.54 221.65,335.54 222.11,335.54 222.56,335.53 223.02,335.53 223.48,335.53 223.94,335.53 224.40,335.52 224.86,335.52 225.32,335.52 225.78,335.52 226.24,335.51 226.70,335.51 227.16,335.51 227.62,335.51 228.08,335.50 228.54,335.50 229.00,335.50 229.46,335.49 229.92,335.49 230.38,335.49 230.84,335.49 231.30,335.48 231.76,335.48 232.22,335.48 232.68,335.47 233.14,335.47 233.60,335.47 234.06,335.46 234.52,335.46 234.98,335.46 235.44,335.45 235.90,335.45 236.36,335.44 236.82,335.44 237.27,335.44 237.73,335.43 238.19,335.43 238.65,335.42 239.11,335.42 239.57,335.42 240.03,335.41 240.49,335.41 240.95,335.40 241.41,335.40 241.87,335.39 242.33,335.39 242.79,335.38 243.25,335.38 243.71,335.37 244.17,335.37 244.63,335.36 245.09,335.35 245.55,335.35 246.01,335.34 246.47,335.34 246.93,335.33 247.39,335.32 247.85,335.32 248.31,335.31 248.77,335.30 249.23,335.30 249.69,335.29 250.15,335.28 250.61,335.27 251.07,335.27 251.53,335.26 251.98,335.25 252.44,335.24 252.90,335.23 253.36,335.22 253.82,335.21 254.28,335.20 254.74,335.20 255.20,335.18 255.66,335.17 256.12,335.16 256.58,335.15 257.04,335.14 257.50,335.13 257.96,335.12 258.42,335.10 258.88,335.09 259.34,335.08 259.80,335.06 260.26,335.05 260.72,335.03 261.18,335.02 261.64,335.00 262.10,334.99 262.56,334.97 263.02,334.95 263.48,334.93 263.94,334.91 264.40,334.89 264.86,334.87 265.32,334.85 265.78,334.83 266.24,334.81 266.69,334.78 267.15,334.76 267.61,334.73 268.07,334.70 268.53,334.67 268.99,334.64 269.45,334.61 269.91,334.58 270.37,334.54 270.83,334.50 271.29,334.47 271.75,334.42 272.21,334.38 272.67,334.34 273.13,334.29 273.59,334.24 274.05,334.19 274.51,334.13 274.97,334.07 275.43,334.01 275.89,333.94 276.35,333.87 276.81,333.79 277.27,333.71 277.73,333.63 278.19,333.54 278.65,333.44 279.11,333.33 279.57,333.22 280.03,333.10 280.49,332.97 280.95,332.83 281.40,332.67 281.86,332.51 282.32,332.33 282.78,332.14 283.24,331.92 283.70,331.69 284.16,331.44 284.62,331.17 285.08,330.87 285.54,330.54 286.00,330.18 286.46,329.79 286.92,329.36 287.38,328.90 287.84,328.39 288.30,327.84 288.76,327.25 289.22,326.63 289.68,325.97 290.14,325.29 290.60,324.61 291.06,323.93 291.52,323.28 291.98,322.68 292.44,322.14 292.90,321.67 293.36,321.32 293.82,321.13 294.28,321.07 294.74,321.08 295.20,321.12 295.66,321.11 296.11,321.00 296.57,320.76 297.03,320.36 297.49,319.78 297.95,319.00 298.41,318.02 298.87,316.85 299.33,315.50 299.79,314.00 300.25,312.40 300.71,310.78 301.17,309.21 301.63,307.83 302.09,306.74 302.55,306.07 303.01,305.89 303.47,306.14 303.93,306.71 304.39,307.58 304.85,308.71 305.31,310.06 305.77,311.58 306.23,313.22 306.69,314.92 307.15,316.64 307.61,318.33 308.07,319.97 308.53,321.53 308.99,322.99 309.45,324.34 309.91,325.58 310.37,326.71 310.82,327.73 311.28,328.64 311.74,329.45 312.20,330.17 312.66,330.81 313.12,331.38 313.58,331.87 314.04,332.31 314.50,332.70 314.96,333.03 315.42,333.33 315.88,333.59 316.34,333.82 316.80,334.02 317.26,334.19 317.72,334.35 318.18,334.48 318.64,334.60 319.10,334.71 319.56,334.80 320.02,334.88 320.48,334.96 320.94,335.02 321.40,335.08 321.86,335.13 322.32,335.18 322.78,335.22 323.24,335.25 323.70,335.28 324.16,335.31 324.62,335.34 325.08,335.36 325.53,335.38 325.99,335.40 326.45,335.42 326.91,335.43 327.37,335.45 327.83,335.46 328.29,335.47 328.75,335.48 329.21,335.49 329.67,335.50 330.13,335.51 330.59,335.51 331.05,335.52 331.51,335.53 331.97,335.53 332.43,335.54 332.89,335.54 333.35,335.55 333.81,335.55 334.27,335.55 334.73,335.56 335.19,335.56 335.65,335.56 336.11,335.56 336.57,335.57 337.03,335.57 337.49,335.57 337.95,335.57 338.41,335.57 338.87,335.58 339.33,335.58 339.79,335.58 340.24,335.58 340.70,335.58 341.16,335.58 341.62,335.58 342.08,335.58 342.54,335.58 343.00,335.59 343.46,335.59 343.92,335.59 344.38,335.59 344.84,335.59 345.30,335.59 345.76,335.59 346.22,335.59 346.68,335.59 347.14,335.59 347.60,335.59 348.06,335.59 348.52,335.59 348.98,335.59 349.44,335.59 349.90,335.59 350.36,335.59 350.82,335.59 351.28,335.59 351.74,335.59 352.20,335.59 352.66,335.60" stroke="#3c3c3c" stroke-width="1.3" fill="none" stroke-linejoin="round"/>
<polyline points="206.94,335.60 207.40,335.59 207.85,335.57 208.31,335.56 208.77,335.54 209.23,335.52 209.69,335.51 210.15,335.49 210.61,335.48 211.07,335.46 211.53,335.45 211.99,335.43 212.45,335.42 212.91,335.40 213.37,335.38 213.83,335.37 214.29,335.35 214.75,335.33 215.21,335.32 215.67,335.30 216.13,335.28 216.59,335.26 217.05,335.25 217.51,335.23 217.97,335.21 218.43,335.19 218.89,335.18 219.35,335.16 219.81,335.14 220.27,335.12 220.73,335.10 221.19,335.08 221.65,335.06 222.11,335.04 222.56,335.03 223.02,335.01 223.48,334.99 223.94,334.97 224.40,334.95 224.86,334.92 225.32,334.90 225.78,334.88 226.24,334.86 226.70,334.84 227.16,334.82 227.62,334.80 228.08,334.77 228.54,334.75 229.00,334.73 229.46,334.71 229.92,334.68 230.38,334.66 230.84,334.64 231.30,334.61 231.76,334.59 232.22,334.56 232.68,334.54 233.14,334.51 233.60,334.49 234.06,334.46 234.52,334.44 234.98,334.41 235.44,334.38 235.90,334.35 236.36,334.33 236.82,334.30 237.27,334.27 237.73,334.24 238.19,334.21 238.65,334.18 239.11,334.15 239.57,334.12 240.03,334.09 240.49,334.06 240.95,334.03 241.41,333.99 241.87,333.96 242.33,333.93 242.79,333.89 243.25,333.86 243.71,333.82 244.17,333.79 244.63,333.75 245.09,333.71 245.55,333.67 246.01,333.64 246.47,333.60 246.93,333.56 247.39,333.51 247.85,333.47 248.31,333.43 248.77,333.39 249.23,333.34 249.69,333.30 250.15,333.25 250.61,333.21 251.07,333.16 251.53,333.11 251.98,333.06 252.44,333.01 252.90,332.96 253.36,332.90 253.82,332.85 254.28,332.79 254.74,332.74 255.20,332.68 255.66,332.62 256.12,332.56 256.58,332.49 257.04,332.43 257.50,332.37 257.96,332.30 258.42,332.23 258.88,332.16 259.34,332.08 259.80,332.01 260.26,331.93 260.72,331.85 261.18,331.77 261.64,331.69 262.10,331.60 262.56,331.51 263.02,331.42 263.48,331.33 263.94,331.23 264.40,331.13 264.86,331.03 265.32,330.92 265.78,330.81 266.24,330.70 266.69,330.58 267.15,330.46 267.61,330.33 268.07,330.20 268.53,330.06 268.99,329.92 269.45,329.78 269.91,329.63 270.37,329.47 270.83,329.30 271.29,329.13 271.75,328.95 272.21,328.77 272.67,328.58 273.13,328.37 273.59,328.16 274.05,327.94 274.51,327.71 274.97,327.46 275.43,327.21 275.89,326.94 276.35,326.66 276.81,326.36 277.27,326.05 277.73,325.72 278.19,325.37 278.65,325.00 279.11,324.61 279.57,324.20 280.03,323.76 280.49,323.29 280.95,322.79 281.40,322.26 281.86,321.69 282.32,321.09 282.78,320.43 283.24,319.73 283.70,318.98 284.16,318.17 284.62,317.29 285.08,316.34 285.54,315.31 286.00,314.18 286.46,312.96 286.92,311.63 287.38,310.18 287.84,308.59 288.30,306.84 288.76,304.93 289.22,302.83 289.68,300.54 290.14,298.03 290.60,295.29 291.06,292.33 291.52,289.16 291.98,285.80 292.44,282.32 292.90,278.81 293.36,275.42 293.82,272.32 294.28,269.73 294.74,267.87 295.20,266.91 295.66,266.86 296.11,267.21 296.57,267.90 297.03,268.90 297.49,270.20 297.95,271.77 298.41,273.60 298.87,275.65 299.33,277.90 299.79,280.30 300.25,282.83 300.71,285.44 301.17,288.12 301.63,290.83 302.09,293.53 302.55,296.22 303.01,298.85 303.47,301.42 303.93,303.91 304.39,306.30 304.85,308.59 305.31,310.76 305.77,312.81 306.23,314.73 306.69,316.54 307.15,318.22 307.61,319.78 308.07,321.23 308.53,322.56 308.99,323.79 309.45,324.92 309.91,325.94 310.37,326.88 310.82,327.74 311.28,328.51 311.74,329.22 312.20,329.85 312.66,330.43 313.12,330.95 313.58,331.42 314.04,331.84 314.50,332.23 314.96,332.57 315.42,332.88 315.88,333.15 316.34,333.40 316.80,333.63 317.26,333.83 317.72,334.01 318.18,334.17 318.64,334.31 319.10,334.44 319.56,334.56 320.02,334.66 320.48,334.76 320.94,334.84 321.40,334.91 321.86,334.98 322.32,335.04 322.78,335.10 323.24,335.15 323.70,335.19 324.16,335.23 324.62,335.26 325.08,335.30 325.53,335.33 325.99,335.35 326.45,335.37 326.91,335.40 327.37,335.41 327.83,335.43 328.29,335.45 328.75,335.46 329.21,335.47 329.67,335.48 330.13,335.49 330.59,335.50 331.05,335.51 331.51,335.52 331.97,335.53 332.43,335.53 332.89,335.54 333.35,335.54 333.81,335.55 334.27,335.55 334.73,335.56 335.19,335.56 335.65,335.56 336.11,335.57 336.57,335.57 337.03,335.57 337.49,335.57 337.95,335.58 338.41,335.58 338.87,335.58 339.33,335.58 339.79,335.58 340.24,335.58 340.70,335.59 341.16,335.59 341.62,335.59 342.08,335.59 342.54,335.59 343.00,335.59 343.46,335.59 343.92,335.59 344.38,335.59 344.84,335.59 345.30,335.59 345.76,335.59 346.22,335.59 346.68,335.59 347.14,335.60 347.60,335.60 348.06,335.60 348.52,335.60 348.98,335.60 349.44,335.60 349.90,335.60 350.36,335.60 350.82,335.60 351.28,335.60 351.74,335.60 352.20,335.60 352.66,335.60" stroke="#f03c3c" stroke-width="1.3" fill="none" stroke-linejoin="round"/>
<polyline points="206.94,335.60 207.40,335.57 207.85,335.54 208.31,335.51 208.77,335.48 209.23,335.45 209.69,335.41 210.15,335.38 210.61,335.35 211.07,335.32 211.53,335.28 211.99,335.25 212.45,335.21 212.91,335.18 213.37,335.14 213.83,335.11 214.29,335.07 214.75,335.03 215.21,335.00 215.67,334.96 216.13,334.92 216.59,334.88 217.05,334.84 217.51,334.80 217.97,334.76 218.43,334.72 218.89,334.68 219.35,334.63 219.81,334.59 220.27,334.55 220.73,334.50 221.19,334.45 221.65,334.41 222.11,334.36 222.56,334.31 223.02,334.26 223.48,334.21 223.94,334.16 224.40,334.11 224.86,334.06 225.32,334.01 225.78,333.95 226.24,333.90 226.70,333.84 227.16,333.78 227.62,333.72 228.08,333.66 228.54,333.60 229.00,333.54 229.46,333.48 229.92,333.41 230.38,333.34 230.84,333.28 231.30,333.21 231.76,333.14 232.22,333.06 232.68,332.99 233.14,332.91 233.60,332.84 234.06,332.76 234.52,332.68 234.98,332.60 235.44,332.51 235.90,332.42 236.36,332.33 236.82,332.24 237.27,332.15 237.73,332.05 238.19,331.96 238.65,331.86 239.11,331.75 239.57,331.65 240.03,331.54 240.49,331.43 240.95,331.31 241.41,331.19 241.87,331.07 242.33,330.95 242.79,330.82 243.25,330.69 243.71,330.55 244.17,330.41 244.63,330.27 245.09,330.12 245.55,329.96 246.01,329.81 246.47,329.64 246.93,329.48 247.39,329.30 247.85,329.12 248.31,328.94 248.77,328.74 249.23,328.55 249.69,328.34 250.15,328.13 250.61,327.91 251.07,327.68 251.53,327.45 251.98,327.20 252.44,326.95 252.90,326.68 253.36,326.41 253.82,326.13 254.28,325.83 254.74,325.53 255.20,325.21 255.66,324.87 256.12,324.53 256.58,324.17 257.04,323.79 257.50,323.40 257.96,322.99 258.42,322.57 258.88,322.12 259.34,321.66 259.80,321.17 260.26,320.66 260.72,320.13 261.18,319.57 261.64,318.99 262.10,318.37 262.56,317.73 263.02,317.05 263.48,316.35 263.94,315.60 264.40,314.82 264.86,314.00 265.32,313.13 265.78,312.22 266.24,311.26 266.69,310.25 267.15,309.18 267.61,308.06 268.07,306.87 268.53,305.62 268.99,304.30 269.45,302.91 269.91,301.45 270.37,299.90 270.83,298.26 271.29,296.54 271.75,294.73 272.21,292.82 272.67,290.81 273.13,288.70 273.59,286.49 274.05,284.17 274.51,281.74 274.97,279.22 275.43,276.59 275.89,273.87 276.35,271.07 276.81,268.20 277.27,265.26 277.73,262.29 278.19,259.30 278.65,256.33 279.11,253.40 279.57,250.55 280.03,247.82 280.49,245.25 280.95,242.89 281.40,240.78 281.86,238.97 282.32,237.49 282.78,236.38 283.24,235.66 283.70,235.35 284.16,235.50 284.62,236.12 285.08,237.22 285.54,238.79 286.00,240.78 286.46,243.18 286.92,245.94 287.38,249.03 287.84,252.41 288.30,256.01 288.76,259.81 289.22,263.75 289.68,267.79 290.14,271.87 290.60,275.96 291.06,280.02 291.52,284.02 291.98,287.91 292.44,291.69 292.90,295.31 293.36,298.78 293.82,302.06 294.28,305.16 294.74,308.06 295.20,310.77 295.66,313.28 296.11,315.60 296.57,317.73 297.03,319.68 297.49,321.45 297.95,323.06 298.41,324.51 298.87,325.82 299.33,326.99 299.79,328.04 300.25,328.98 300.71,329.81 301.17,330.54 301.63,331.19 302.09,331.76 302.55,332.27 303.01,332.71 303.47,333.10 303.93,333.43 304.39,333.73 304.85,333.98 305.31,334.21 305.77,334.40 306.23,334.57 306.69,334.71 307.15,334.84 307.61,334.94 308.07,335.04 308.53,335.12 308.99,335.19 309.45,335.25 309.91,335.30 310.37,335.34 310.82,335.38 311.28,335.41 311.74,335.44 312.20,335.46 312.66,335.48 313.12,335.50 313.58,335.51 314.04,335.53 314.50,335.54 314.96,335.55 315.42,335.55 315.88,335.56 316.34,335.57 316.80,335.57 317.26,335.57 317.72,335.58 318.18,335.58 318.64,335.58 319.10,335.59 319.56,335.59 320.02,335.59 320.48,335.59 320.94,335.59 321.40,335.59 321.86,335.59 322.32,335.60 322.78,335.60 323.24,335.60 323.70,335.60 324.16,335.60 324.62,335.60 325.08,335.60 325.53,335.60 325.99,335.60 326.45,335.60 326.91,335.60 327.37,335.60 327.83,335.60 328.29,335.60 328.75,335.60 329.21,335.60 329.67,335.60 330.13,335.60 330.59,335.60 331.05,335.60 331.51,335.60 331.97,335.60 332.43,335.60 332.89,335.60 333.35,335.60 333.81,335.60 334.27,335.60 334.73,335.60 335.19,335.60 335.65,335.60 336.11,335.60 336.57,335.60 337.03,335.60 337.49,335.60 337.95,335.60 338.41,335.60 338.87,335.60 339.33,335.60 339.79,335.60 340.24,335.60 340.70,335.60 341.16,335.60 341.62,335.60 342.08,335.60 342.54,335.60 343.00,335.60 343.46,335.60 343.92,335.60 344.38,335.60 344.84,335.60 345.30,335.60 345.76,335.60 346.22,335.60 346.68,335.60 347.14,335.60 347.60,335.60 348.06,335.60 348.52,335.60 348.98,335.60 349.44,335.60 349.90,335.60 350.36,335.60 350.82,335.60 351.28,335.60 351.74,335.60 352.20,335.60 352.66,335.60" stroke="#1f80e8" stroke-width="1.3" fill="none" stroke-linejoin="round"/>
<rect x="206.2" y="222.6" width="147.10" height="118.20" fill="none" stroke="#2a2a2a" stroke-width="1.25"/>
<line x1="206.20" y1="340.80" x2="206.20" y2="338.20" stroke="#2a2a2a" stroke-width="1" />
<line x1="224.59" y1="340.80" x2="224.59" y2="339.00" stroke="#2a2a2a" stroke-width="1" />
<line x1="242.97" y1="340.80" x2="242.97" y2="338.20" stroke="#2a2a2a" stroke-width="1" />
<line x1="261.36" y1="340.80" x2="261.36" y2="339.00" stroke="#2a2a2a" stroke-width="1" />
<line x1="279.75" y1="340.80" x2="279.75" y2="338.20" stroke="#2a2a2a" stroke-width="1" />
<line x1="298.14" y1="340.80" x2="298.14" y2="339.00" stroke="#2a2a2a" stroke-width="1" />
<line x1="316.52" y1="340.80" x2="316.52" y2="338.20" stroke="#2a2a2a" stroke-width="1" />
<line x1="334.91" y1="340.80" x2="334.91" y2="339.00" stroke="#2a2a2a" stroke-width="1" />
<line x1="353.30" y1="340.80" x2="353.30" y2="338.20" stroke="#2a2a2a" stroke-width="1" />
<text x="206.20" y="350.20" font-size="9" text-anchor="middle" font-weight="bold" fill="#000" >200</text>
<text x="242.97" y="350.20" font-size="9" text-anchor="middle" font-weight="bold" fill="#000" >220</text>
<text x="279.75" y="350.20" font-size="9" text-anchor="middle" font-weight="bold" fill="#000" >240</text>
<text x="316.52" y="350.20" font-size="9" text-anchor="middle" font-weight="bold" fill="#000" >260</text>
<text x="353.30" y="350.20" font-size="9" text-anchor="middle" font-weight="bold" fill="#000" >280</text>
<text x="285.40" y="360.40" font-size="10.0" text-anchor="middle" font-weight="bold" fill="#000" >Temperature (°C)</text>
<text transform="translate(200.20,280.85) rotate(-90)" font-size="10.1" font-weight="bold" text-anchor="middle">Heat Flow Exo Up (mW)</text>
<text x="190.00" y="221.80" font-size="12" text-anchor="start" font-weight="normal" fill="#000" >(d)</text>
<text transform="translate(211.9,235.6) scale(1,1.03)" font-size="13.5" font-weight="bold" fill="#f01414" stroke="#f01414" stroke-width="0.27">D</text>
<text x="221.65" y="238.30" font-size="9.18" font-weight="bold" fill="#f01414">II</text>
<text x="229.47" y="234.25" font-size="13.5" font-weight="bold" fill="#f01414">’</text>
<line x1="298.40" y1="227.60" x2="312.40" y2="227.60" stroke="#3c3c3c" stroke-width="1.5" />
<text x="313.80" y="229.60" font-size="6.1" text-anchor="start" font-weight="normal" fill="#222" >295-5 °C/min</text>
<line x1="298.40" y1="235.00" x2="312.40" y2="235.00" stroke="#f03c3c" stroke-width="1.5" />
<text x="313.80" y="237.00" font-size="6.1" text-anchor="start" font-weight="normal" fill="#222" >295-10 °C/min</text>
<line x1="298.40" y1="242.60" x2="312.40" y2="242.60" stroke="#1f80e8" stroke-width="1.5" />
<text x="313.80" y="244.60" font-size="6.1" text-anchor="start" font-weight="normal" fill="#222" >295-20 °C/min</text>
<polyline points="395.03,335.20 395.49,335.20 395.95,335.19 396.40,335.19 396.86,335.18 397.32,335.18 397.78,335.17 398.23,335.17 398.69,335.16 399.15,335.16 399.61,335.15 400.06,335.15 400.52,335.14 400.98,335.14 401.44,335.13 401.89,335.13 402.35,335.12 402.81,335.12 403.27,335.11 403.72,335.10 404.18,335.10 404.64,335.09 405.10,335.09 405.55,335.08 406.01,335.08 406.47,335.07 406.93,335.07 407.38,335.06 407.84,335.05 408.30,335.05 408.76,335.04 409.21,335.04 409.67,335.03 410.13,335.02 410.59,335.02 411.04,335.01 411.50,335.00 411.96,335.00 412.42,334.99 412.87,334.99 413.33,334.98 413.79,334.97 414.25,334.97 414.70,334.96 415.16,334.95 415.62,334.94 416.08,334.94 416.53,334.93 416.99,334.92 417.45,334.92 417.91,334.91 418.36,334.90 418.82,334.89 419.28,334.89 419.74,334.88 420.19,334.87 420.65,334.86 421.11,334.85 421.57,334.85 422.02,334.84 422.48,334.83 422.94,334.82 423.40,334.81 423.85,334.80 424.31,334.79 424.77,334.79 425.23,334.78 425.68,334.77 426.14,334.76 426.60,334.75 427.06,334.74 427.51,334.73 427.97,334.72 428.43,334.71 428.89,334.70 429.34,334.69 429.80,334.68 430.26,334.67 430.72,334.66 431.17,334.65 431.63,334.64 432.09,334.62 432.55,334.61 433.00,334.60 433.46,334.59 433.92,334.58 434.38,334.56 434.83,334.55 435.29,334.54 435.75,334.53 436.21,334.51 436.66,334.50 437.12,334.49 437.58,334.47 438.04,334.46 438.49,334.44 438.95,334.43 439.41,334.41 439.87,334.40 440.32,334.38 440.78,334.37 441.24,334.35 441.70,334.33 442.15,334.32 442.61,334.30 443.07,334.28 443.53,334.26 443.98,334.25 444.44,334.23 444.90,334.21 445.36,334.19 445.81,334.17 446.27,334.15 446.73,334.13 447.19,334.10 447.64,334.08 448.10,334.06 448.56,334.04 449.02,334.01 449.47,333.99 449.93,333.96 450.39,333.94 450.85,333.91 451.30,333.89 451.76,333.86 452.22,333.83 452.68,333.80 453.13,333.77 453.59,333.74 454.05,333.71 454.51,333.68 454.96,333.64 455.42,333.61 455.88,333.57 456.34,333.54 456.79,333.50 457.25,333.46 457.71,333.42 458.17,333.38 458.62,333.34 459.08,333.29 459.54,333.25 460.00,333.20 460.45,333.15 460.91,333.10 461.37,333.05 461.83,332.99 462.28,332.94 462.74,332.88 463.20,332.82 463.66,332.76 464.11,332.69 464.57,332.62 465.03,332.55 465.49,332.48 465.94,332.40 466.40,332.32 466.86,332.24 467.32,332.16 467.77,332.07 468.23,331.97 468.69,331.87 469.15,331.77 469.60,331.66 470.06,331.55 470.52,331.43 470.98,331.30 471.43,331.17 471.89,331.03 472.35,330.89 472.81,330.73 473.26,330.57 473.72,330.40 474.18,330.22 474.64,330.02 475.09,329.82 475.55,329.60 476.01,329.37 476.47,329.12 476.92,328.86 477.38,328.58 477.84,328.28 478.30,327.96 478.75,327.62 479.21,327.25 479.67,326.85 480.13,326.43 480.58,325.96 481.04,325.46 481.50,324.92 481.96,324.34 482.41,323.70 482.87,323.01 483.33,322.26 483.79,321.44 484.24,320.54 484.70,319.56 485.16,318.50 485.62,317.34 486.07,316.07 486.53,314.70 486.99,313.21 487.45,311.62 487.90,309.93 488.36,308.14 488.82,306.30 489.28,304.44 489.73,302.61 490.19,300.89 490.65,299.37 491.11,298.14 491.56,297.28 492.02,296.85 492.48,296.91 492.94,297.46 493.39,298.47 493.85,299.90 494.31,301.66 494.77,303.70 495.22,305.92 495.68,308.24 496.14,310.58 496.60,312.90 497.05,315.14 497.51,317.25 497.97,319.23 498.43,321.04 498.88,322.69 499.34,324.18 499.80,325.52 500.26,326.70 500.71,327.75 501.17,328.67 501.63,329.48 502.09,330.19 502.54,330.81 503.00,331.35 503.46,331.83 503.92,332.24 504.37,332.59 504.83,332.91 505.29,333.18 505.75,333.41 506.20,333.62 506.66,333.80 507.12,333.96 507.58,334.10 508.03,334.22 508.49,334.33 508.95,334.42 509.41,334.50 509.86,334.58 510.32,334.64 510.78,334.70 511.24,334.75 511.69,334.79 512.15,334.83 512.61,334.87 513.07,334.90 513.52,334.93 513.98,334.95 514.44,334.97 514.90,334.99 515.35,335.01 515.81,335.03 516.27,335.04 516.73,335.06 517.18,335.07 517.64,335.08 518.10,335.09 518.56,335.10 519.01,335.11 519.47,335.11 519.93,335.12 520.39,335.13 520.84,335.13 521.30,335.14 521.76,335.14 522.22,335.15 522.67,335.15 523.13,335.15 523.59,335.16 524.05,335.16 524.50,335.16 524.96,335.17 525.42,335.17 525.88,335.17 526.33,335.17 526.79,335.17 527.25,335.18 527.71,335.18 528.16,335.18 528.62,335.18 529.08,335.18 529.54,335.18 529.99,335.18 530.45,335.18 530.91,335.18 531.37,335.19 531.82,335.19 532.28,335.19 532.74,335.19 533.20,335.19 533.65,335.19 534.11,335.19 534.57,335.19 535.03,335.19 535.48,335.19 535.94,335.19 536.40,335.19 536.86,335.19 537.31,335.19 537.77,335.19 538.23,335.19 538.69,335.19 539.14,335.19 539.60,335.19 540.06,335.19" stroke="#3c3c3c" stroke-width="1.3" fill="none" stroke-linejoin="round"/>
<polyline points="395.03,335.20 395.49,335.19 395.95,335.18 396.40,335.17 396.86,335.16 397.32,335.15 397.78,335.13 398.23,335.12 398.69,335.11 399.15,335.10 399.61,335.09 400.06,335.08 400.52,335.07 400.98,335.05 401.44,335.04 401.89,335.03 402.35,335.02 402.81,335.01 403.27,334.99 403.72,334.98 404.18,334.97 404.64,334.96 405.10,334.94 405.55,334.93 406.01,334.92 406.47,334.90 406.93,334.89 407.38,334.88 407.84,334.86 408.30,334.85 408.76,334.84 409.21,334.82 409.67,334.81 410.13,334.80 410.59,334.78 411.04,334.77 411.50,334.75 411.96,334.74 412.42,334.72 412.87,334.71 413.33,334.69 413.79,334.68 414.25,334.66 414.70,334.65 415.16,334.63 415.62,334.62 416.08,334.60 416.53,334.58 416.99,334.57 417.45,334.55 417.91,334.53 418.36,334.52 418.82,334.50 419.28,334.48 419.74,334.46 420.19,334.45 420.65,334.43 421.11,334.41 421.57,334.39 422.02,334.37 422.48,334.35 422.94,334.33 423.40,334.31 423.85,334.29 424.31,334.27 424.77,334.25 425.23,334.23 425.68,334.21 426.14,334.19 426.60,334.17 427.06,334.14 427.51,334.12 427.97,334.10 428.43,334.08 428.89,334.05 429.34,334.03 429.80,334.00 430.26,333.98 430.72,333.95 431.17,333.93 431.63,333.90 432.09,333.88 432.55,333.85 433.00,333.82 433.46,333.79 433.92,333.77 434.38,333.74 434.83,333.71 435.29,333.68 435.75,333.65 436.21,333.62 436.66,333.58 437.12,333.55 437.58,333.52 438.04,333.48 438.49,333.45 438.95,333.42 439.41,333.38 439.87,333.34 440.32,333.31 440.78,333.27 441.24,333.23 441.70,333.19 442.15,333.15 442.61,333.10 443.07,333.06 443.53,333.02 443.98,332.97 444.44,332.93 444.90,332.88 445.36,332.83 445.81,332.78 446.27,332.73 446.73,332.68 447.19,332.62 447.64,332.57 448.10,332.51 448.56,332.45 449.02,332.39 449.47,332.33 449.93,332.26 450.39,332.20 450.85,332.13 451.30,332.06 451.76,331.99 452.22,331.91 452.68,331.84 453.13,331.76 453.59,331.67 454.05,331.59 454.51,331.50 454.96,331.41 455.42,331.32 455.88,331.22 456.34,331.11 456.79,331.01 457.25,330.90 457.71,330.78 458.17,330.67 458.62,330.54 459.08,330.41 459.54,330.28 460.00,330.14 460.45,329.99 460.91,329.84 461.37,329.68 461.83,329.51 462.28,329.33 462.74,329.14 463.20,328.95 463.66,328.74 464.11,328.53 464.57,328.30 465.03,328.06 465.49,327.80 465.94,327.53 466.40,327.25 466.86,326.94 467.32,326.62 467.77,326.28 468.23,325.91 468.69,325.52 469.15,325.10 469.60,324.65 470.06,324.17 470.52,323.64 470.98,323.08 471.43,322.48 471.89,321.82 472.35,321.10 472.81,320.33 473.26,319.48 473.72,318.55 474.18,317.54 474.64,316.42 475.09,315.19 475.55,313.83 476.01,312.33 476.47,310.68 476.92,308.84 477.38,306.81 477.84,304.57 478.30,302.11 478.75,299.43 479.21,296.54 479.67,293.49 480.13,290.34 480.58,287.24 481.04,284.35 481.50,281.90 481.96,280.12 482.41,279.22 482.87,279.21 483.33,279.65 483.79,280.50 484.24,281.71 484.70,283.27 485.16,285.13 485.62,287.25 486.07,289.59 486.53,292.08 486.99,294.70 487.45,297.37 487.90,300.07 488.36,302.75 488.82,305.38 489.28,307.93 489.73,310.37 490.19,312.69 490.65,314.87 491.11,316.90 491.56,318.79 492.02,320.52 492.48,322.11 492.94,323.56 493.39,324.87 493.85,326.05 494.31,327.11 494.77,328.06 495.22,328.90 495.68,329.66 496.14,330.32 496.60,330.91 497.05,331.44 497.51,331.90 497.97,332.30 498.43,332.66 498.88,332.97 499.34,333.24 499.80,333.48 500.26,333.69 500.71,333.88 501.17,334.04 501.63,334.18 502.09,334.30 502.54,334.41 503.00,334.51 503.46,334.59 503.92,334.66 504.37,334.73 504.83,334.78 505.29,334.83 505.75,334.87 506.20,334.91 506.66,334.95 507.12,334.97 507.58,335.00 508.03,335.02 508.49,335.04 508.95,335.06 509.41,335.08 509.86,335.09 510.32,335.10 510.78,335.11 511.24,335.12 511.69,335.13 512.15,335.14 512.61,335.14 513.07,335.15 513.52,335.15 513.98,335.16 514.44,335.16 514.90,335.17 515.35,335.17 515.81,335.17 516.27,335.18 516.73,335.18 517.18,335.18 517.64,335.18 518.10,335.18 518.56,335.19 519.01,335.19 519.47,335.19 519.93,335.19 520.39,335.19 520.84,335.19 521.30,335.19 521.76,335.19 522.22,335.19 522.67,335.19 523.13,335.19 523.59,335.19 524.05,335.20 524.50,335.20 524.96,335.20 525.42,335.20 525.88,335.20 526.33,335.20 526.79,335.20 527.25,335.20 527.71,335.20 528.16,335.20 528.62,335.20 529.08,335.20 529.54,335.20 529.99,335.20 530.45,335.20 530.91,335.20 531.37,335.20 531.82,335.20 532.28,335.20 532.74,335.20 533.20,335.20 533.65,335.20 534.11,335.20 534.57,335.20 535.03,335.20 535.48,335.20 535.94,335.20 536.40,335.20 536.86,335.20 537.31,335.20 537.77,335.20 538.23,335.20 538.69,335.20 539.14,335.20 539.60,335.20 540.06,335.20" stroke="#f03c3c" stroke-width="1.3" fill="none" stroke-linejoin="round"/>
<polyline points="395.03,335.20 395.49,335.18 395.95,335.16 396.40,335.14 396.86,335.12 397.32,335.10 397.78,335.08 398.23,335.06 398.69,335.04 399.15,335.02 399.61,335.00 400.06,334.98 400.52,334.96 400.98,334.94 401.44,334.92 401.89,334.89 402.35,334.87 402.81,334.85 403.27,334.82 403.72,334.80 404.18,334.78 404.64,334.75 405.10,334.73 405.55,334.70 406.01,334.68 406.47,334.65 406.93,334.63 407.38,334.60 407.84,334.57 408.30,334.54 408.76,334.52 409.21,334.49 409.67,334.46 410.13,334.43 410.59,334.40 411.04,334.37 411.50,334.34 411.96,334.31 412.42,334.28 412.87,334.24 413.33,334.21 413.79,334.18 414.25,334.14 414.70,334.11 415.16,334.07 415.62,334.03 416.08,334.00 416.53,333.96 416.99,333.92 417.45,333.88 417.91,333.84 418.36,333.80 418.82,333.76 419.28,333.71 419.74,333.67 420.19,333.62 420.65,333.58 421.11,333.53 421.57,333.48 422.02,333.43 422.48,333.38 422.94,333.33 423.40,333.28 423.85,333.23 424.31,333.17 424.77,333.12 425.23,333.06 425.68,333.00 426.14,332.94 426.60,332.87 427.06,332.81 427.51,332.74 427.97,332.68 428.43,332.61 428.89,332.54 429.34,332.46 429.80,332.39 430.26,332.31 430.72,332.23 431.17,332.15 431.63,332.06 432.09,331.98 432.55,331.89 433.00,331.79 433.46,331.70 433.92,331.60 434.38,331.50 434.83,331.39 435.29,331.28 435.75,331.17 436.21,331.06 436.66,330.94 437.12,330.81 437.58,330.68 438.04,330.55 438.49,330.41 438.95,330.27 439.41,330.12 439.87,329.97 440.32,329.81 440.78,329.64 441.24,329.47 441.70,329.29 442.15,329.11 442.61,328.92 443.07,328.71 443.53,328.50 443.98,328.29 444.44,328.06 444.90,327.82 445.36,327.57 445.81,327.31 446.27,327.04 446.73,326.76 447.19,326.46 447.64,326.15 448.10,325.82 448.56,325.48 449.02,325.12 449.47,324.74 449.93,324.34 450.39,323.93 450.85,323.49 451.30,323.02 451.76,322.53 452.22,322.02 452.68,321.47 453.13,320.90 453.59,320.29 454.05,319.65 454.51,318.96 454.96,318.24 455.42,317.47 455.88,316.66 456.34,315.79 456.79,314.87 457.25,313.89 457.71,312.85 458.17,311.74 458.62,310.56 459.08,309.29 459.54,307.94 460.00,306.51 460.45,304.97 460.91,303.33 461.37,301.58 461.83,299.71 462.28,297.72 462.74,295.60 463.20,293.34 463.66,290.94 464.11,288.39 464.57,285.70 465.03,282.86 465.49,279.88 465.94,276.77 466.40,273.54 466.86,270.22 467.32,266.82 467.77,263.40 468.23,259.98 468.69,256.64 469.15,253.43 469.60,250.41 470.06,247.68 470.52,245.29 470.98,243.33 471.43,241.86 471.89,240.92 472.35,240.56 472.81,240.78 473.26,241.57 473.72,242.90 474.18,244.76 474.64,247.10 475.09,249.89 475.55,253.07 476.01,256.59 476.47,260.38 476.92,264.39 477.38,268.55 477.84,272.80 478.30,277.09 478.75,281.37 479.21,285.58 479.67,289.69 480.13,293.66 480.58,297.46 481.04,301.07 481.50,304.47 481.96,307.64 482.41,310.59 482.87,313.31 483.33,315.80 483.79,318.07 484.24,320.13 484.70,321.98 485.16,323.65 485.62,325.13 486.07,326.45 486.53,327.62 486.99,328.64 487.45,329.55 487.90,330.34 488.36,331.03 488.82,331.62 489.28,332.14 489.73,332.59 490.19,332.98 490.65,333.31 491.11,333.59 491.56,333.84 492.02,334.04 492.48,334.22 492.94,334.37 493.39,334.50 493.85,334.61 494.31,334.70 494.77,334.78 495.22,334.85 495.68,334.90 496.14,334.95 496.60,334.99 497.05,335.02 497.51,335.05 497.97,335.07 498.43,335.09 498.88,335.11 499.34,335.13 499.80,335.14 500.26,335.15 500.71,335.16 501.17,335.16 501.63,335.17 502.09,335.17 502.54,335.18 503.00,335.18 503.46,335.18 503.92,335.19 504.37,335.19 504.83,335.19 505.29,335.19 505.75,335.19 506.20,335.19 506.66,335.20 507.12,335.20 507.58,335.20 508.03,335.20 508.49,335.20 508.95,335.20 509.41,335.20 509.86,335.20 510.32,335.20 510.78,335.20 511.24,335.20 511.69,335.20 512.15,335.20 512.61,335.20 513.07,335.20 513.52,335.20 513.98,335.20 514.44,335.20 514.90,335.20 515.35,335.20 515.81,335.20 516.27,335.20 516.73,335.20 517.18,335.20 517.64,335.20 518.10,335.20 518.56,335.20 519.01,335.20 519.47,335.20 519.93,335.20 520.39,335.20 520.84,335.20 521.30,335.20 521.76,335.20 522.22,335.20 522.67,335.20 523.13,335.20 523.59,335.20 524.05,335.20 524.50,335.20 524.96,335.20 525.42,335.20 525.88,335.20 526.33,335.20 526.79,335.20 527.25,335.20 527.71,335.20 528.16,335.20 528.62,335.20 529.08,335.20 529.54,335.20 529.99,335.20 530.45,335.20 530.91,335.20 531.37,335.20 531.82,335.20 532.28,335.20 532.74,335.20 533.20,335.20 533.65,335.20 534.11,335.20 534.57,335.20 535.03,335.20 535.48,335.20 535.94,335.20 536.40,335.20 536.86,335.20 537.31,335.20 537.77,335.20 538.23,335.20 538.69,335.20 539.14,335.20 539.60,335.20 540.06,335.20" stroke="#1f80e8" stroke-width="1.3" fill="none" stroke-linejoin="round"/>
<rect x="394.3" y="222.6" width="146.40" height="117.70" fill="none" stroke="#2a2a2a" stroke-width="1.25"/>
<line x1="394.30" y1="340.30" x2="394.30" y2="337.70" stroke="#2a2a2a" stroke-width="1" />
<line x1="412.60" y1="340.30" x2="412.60" y2="338.50" stroke="#2a2a2a" stroke-width="1" />
<line x1="430.90" y1="340.30" x2="430.90" y2="337.70" stroke="#2a2a2a" stroke-width="1" />
<line x1="449.20" y1="340.30" x2="449.20" y2="338.50" stroke="#2a2a2a" stroke-width="1" />
<line x1="467.50" y1="340.30" x2="467.50" y2="337.70" stroke="#2a2a2a" stroke-width="1" />
<line x1="485.80" y1="340.30" x2="485.80" y2="338.50" stroke="#2a2a2a" stroke-width="1" />
<line x1="504.10" y1="340.30" x2="504.10" y2="337.70" stroke="#2a2a2a" stroke-width="1" />
<line x1="522.40" y1="340.30" x2="522.40" y2="338.50" stroke="#2a2a2a" stroke-width="1" />
<line x1="540.70" y1="340.30" x2="540.70" y2="337.70" stroke="#2a2a2a" stroke-width="1" />
<text x="394.30" y="349.90" font-size="9" text-anchor="middle" font-weight="bold" fill="#000" >200</text>
<text x="430.90" y="349.90" font-size="9" text-anchor="middle" font-weight="bold" fill="#000" >220</text>
<text x="467.50" y="349.90" font-size="9" text-anchor="middle" font-weight="bold" fill="#000" >240</text>
<text x="504.10" y="349.90" font-size="9" text-anchor="middle" font-weight="bold" fill="#000" >260</text>
<text x="540.70" y="349.90" font-size="9" text-anchor="middle" font-weight="bold" fill="#000" >280</text>
<text x="467.20" y="360.00" font-size="10.0" text-anchor="middle" font-weight="bold" fill="#000" >Temperature (°C)</text>
<text transform="translate(388.30,280.85) rotate(-90)" font-size="10.1" font-weight="bold" text-anchor="middle">Heat Flow Exo Up (mW)</text>
<text x="377.00" y="221.80" font-size="12" text-anchor="start" font-weight="normal" fill="#000" >(e)</text>
<text transform="translate(399.9,239.7) scale(1,1.03)" font-size="13.5" font-weight="bold" fill="#f01414" stroke="#f01414" stroke-width="0.27">D</text>
<text x="409.65" y="242.40" font-size="9.18" font-weight="bold" fill="#f01414">II</text>
<text x="417.47" y="238.35" font-size="13.5" font-weight="bold" fill="#f01414">’</text>
<line x1="484.00" y1="229.00" x2="498.00" y2="229.00" stroke="#3c3c3c" stroke-width="1.5" />
<text x="499.20" y="231.00" font-size="6.1" text-anchor="start" font-weight="normal" fill="#222" >315-5 °C/min</text>
<line x1="484.00" y1="236.40" x2="498.00" y2="236.40" stroke="#f03c3c" stroke-width="1.5" />
<text x="499.20" y="238.40" font-size="6.1" text-anchor="start" font-weight="normal" fill="#222" >315-10 °C/min</text>
<line x1="484.00" y1="243.60" x2="498.00" y2="243.60" stroke="#1f80e8" stroke-width="1.5" />
<text x="499.20" y="245.60" font-size="6.1" text-anchor="start" font-weight="normal" fill="#222" >315-20 °C/min</text>
<polyline points="19.80,490.80 20.26,490.80 20.72,490.79 21.19,490.79 21.65,490.78 22.11,490.78 22.57,490.77 23.03,490.77 23.50,490.76 23.96,490.76 24.42,490.75 24.88,490.75 25.34,490.74 25.81,490.73 26.27,490.73 26.73,490.72 27.19,490.72 27.65,490.71 28.12,490.71 28.58,490.70 29.04,490.70 29.50,490.69 29.96,490.69 30.43,490.68 30.89,490.67 31.35,490.67 31.81,490.66 32.27,490.66 32.74,490.65 33.20,490.64 33.66,490.64 34.12,490.63 34.58,490.63 35.05,490.62 35.51,490.61 35.97,490.61 36.43,490.60 36.89,490.59 37.36,490.59 37.82,490.58 38.28,490.57 38.74,490.57 39.20,490.56 39.67,490.55 40.13,490.54 40.59,490.54 41.05,490.53 41.51,490.52 41.98,490.51 42.44,490.51 42.90,490.50 43.36,490.49 43.82,490.48 44.29,490.48 44.75,490.47 45.21,490.46 45.67,490.45 46.13,490.44 46.60,490.43 47.06,490.43 47.52,490.42 47.98,490.41 48.44,490.40 48.91,490.39 49.37,490.38 49.83,490.37 50.29,490.36 50.75,490.35 51.22,490.34 51.68,490.33 52.14,490.32 52.60,490.31 53.06,490.30 53.53,490.29 53.99,490.28 54.45,490.27 54.91,490.26 55.37,490.25 55.84,490.24 56.30,490.22 56.76,490.21 57.22,490.20 57.68,490.19 58.15,490.18 58.61,490.16 59.07,490.15 59.53,490.14 59.99,490.12 60.46,490.11 60.92,490.10 61.38,490.08 61.84,490.07 62.30,490.05 62.77,490.04 63.23,490.02 63.69,490.01 64.15,489.99 64.61,489.98 65.08,489.96 65.54,489.94 66.00,489.92 66.46,489.91 66.92,489.89 67.39,489.87 67.85,489.85 68.31,489.83 68.77,489.81 69.23,489.79 69.70,489.77 70.16,489.75 70.62,489.73 71.08,489.71 71.54,489.69 72.01,489.66 72.47,489.64 72.93,489.62 73.39,489.59 73.85,489.56 74.32,489.54 74.78,489.51 75.24,489.48 75.70,489.46 76.16,489.43 76.63,489.40 77.09,489.37 77.55,489.33 78.01,489.30 78.47,489.27 78.94,489.23 79.40,489.20 79.86,489.16 80.32,489.12 80.78,489.08 81.25,489.04 81.71,489.00 82.17,488.96 82.63,488.92 83.09,488.87 83.56,488.82 84.02,488.77 84.48,488.72 84.94,488.67 85.40,488.61 85.87,488.56 86.33,488.50 86.79,488.44 87.25,488.37 87.71,488.31 88.18,488.24 88.64,488.17 89.10,488.09 89.56,488.02 90.02,487.93 90.49,487.85 90.95,487.76 91.41,487.67 91.87,487.57 92.33,487.47 92.80,487.36 93.26,487.25 93.72,487.14 94.18,487.01 94.64,486.88 95.11,486.75 95.57,486.60 96.03,486.45 96.49,486.29 96.95,486.12 97.42,485.94 97.88,485.75 98.34,485.55 98.80,485.34 99.26,485.11 99.73,484.87 100.19,484.61 100.65,484.33 101.11,484.04 101.57,483.72 102.04,483.38 102.50,483.01 102.96,482.62 103.42,482.19 103.88,481.74 104.35,481.24 104.81,480.70 105.27,480.12 105.73,479.49 106.19,478.80 106.66,478.05 107.12,477.23 107.58,476.33 108.04,475.36 108.50,474.30 108.97,473.14 109.43,471.88 109.89,470.51 110.35,469.04 110.81,467.47 111.28,465.80 111.74,464.06 112.20,462.28 112.66,460.51 113.12,458.80 113.59,457.23 114.05,455.88 114.51,454.86 114.97,454.22 115.43,454.02 115.90,454.22 116.36,454.75 116.82,455.60 117.28,456.74 117.74,458.12 118.21,459.71 118.67,461.45 119.13,463.29 119.59,465.19 120.05,467.10 120.52,468.99 120.98,470.83 121.44,472.60 121.90,474.28 122.36,475.85 122.83,477.32 123.29,478.66 123.75,479.90 124.21,481.03 124.67,482.05 125.14,482.97 125.60,483.80 126.06,484.55 126.52,485.21 126.98,485.81 127.45,486.34 127.91,486.81 128.37,487.23 128.83,487.61 129.29,487.94 129.76,488.24 130.22,488.50 130.68,488.74 131.14,488.94 131.60,489.13 132.07,489.30 132.53,489.44 132.99,489.58 133.45,489.69 133.91,489.80 134.38,489.89 134.84,489.98 135.30,490.05 135.76,490.12 136.22,490.18 136.69,490.24 137.15,490.29 137.61,490.33 138.07,490.37 138.53,490.41 139.00,490.44 139.46,490.47 139.92,490.50 140.38,490.52 140.84,490.54 141.31,490.56 141.77,490.58 142.23,490.60 142.69,490.61 143.15,490.63 143.62,490.64 144.08,490.65 144.54,490.66 145.00,490.67 145.46,490.68 145.93,490.69 146.39,490.70 146.85,490.70 147.31,490.71 147.77,490.72 148.24,490.72 148.70,490.73 149.16,490.73 149.62,490.74 150.08,490.74 150.55,490.74 151.01,490.75 151.47,490.75 151.93,490.75 152.39,490.76 152.86,490.76 153.32,490.76 153.78,490.76 154.24,490.77 154.70,490.77 155.17,490.77 155.63,490.77 156.09,490.77 156.55,490.77 157.01,490.78 157.48,490.78 157.94,490.78 158.40,490.78 158.86,490.78 159.32,490.78 159.79,490.78 160.25,490.78 160.71,490.78 161.17,490.79 161.63,490.79 162.10,490.79 162.56,490.79 163.02,490.79 163.48,490.79 163.94,490.79 164.41,490.79 164.87,490.79 165.33,490.79 165.79,490.79 166.25,490.79" stroke="#3c3c3c" stroke-width="1.3" fill="none" stroke-linejoin="round"/>
<polyline points="19.80,490.80 20.26,490.79 20.72,490.78 21.19,490.77 21.65,490.76 22.11,490.74 22.57,490.73 23.03,490.72 23.50,490.71 23.96,490.70 24.42,490.69 24.88,490.67 25.34,490.66 25.81,490.65 26.27,490.64 26.73,490.62 27.19,490.61 27.65,490.60 28.12,490.59 28.58,490.57 29.04,490.56 29.50,490.55 29.96,490.53 30.43,490.52 30.89,490.51 31.35,490.49 31.81,490.48 32.27,490.47 32.74,490.45 33.20,490.44 33.66,490.42 34.12,490.41 34.58,490.40 35.05,490.38 35.51,490.37 35.97,490.35 36.43,490.34 36.89,490.32 37.36,490.30 37.82,490.29 38.28,490.27 38.74,490.26 39.20,490.24 39.67,490.22 40.13,490.21 40.59,490.19 41.05,490.17 41.51,490.16 41.98,490.14 42.44,490.12 42.90,490.10 43.36,490.09 43.82,490.07 44.29,490.05 44.75,490.03 45.21,490.01 45.67,489.99 46.13,489.97 46.60,489.95 47.06,489.93 47.52,489.91 47.98,489.89 48.44,489.87 48.91,489.85 49.37,489.82 49.83,489.80 50.29,489.78 50.75,489.76 51.22,489.73 51.68,489.71 52.14,489.68 52.60,489.66 53.06,489.63 53.53,489.61 53.99,489.58 54.45,489.55 54.91,489.53 55.37,489.50 55.84,489.47 56.30,489.44 56.76,489.41 57.22,489.38 57.68,489.35 58.15,489.32 58.61,489.29 59.07,489.25 59.53,489.22 59.99,489.18 60.46,489.15 60.92,489.11 61.38,489.07 61.84,489.03 62.30,488.99 62.77,488.95 63.23,488.91 63.69,488.86 64.15,488.82 64.61,488.77 65.08,488.72 65.54,488.67 66.00,488.61 66.46,488.56 66.92,488.50 67.39,488.44 67.85,488.38 68.31,488.31 68.77,488.24 69.23,488.17 69.70,488.10 70.16,488.02 70.62,487.93 71.08,487.85 71.54,487.76 72.01,487.66 72.47,487.56 72.93,487.45 73.39,487.34 73.85,487.22 74.32,487.10 74.78,486.96 75.24,486.83 75.70,486.68 76.16,486.53 76.63,486.38 77.09,486.22 77.55,486.05 78.01,485.88 78.47,485.70 78.94,485.52 79.40,485.34 79.86,485.15 80.32,484.96 80.78,484.78 81.25,484.59 81.71,484.41 82.17,484.23 82.63,484.05 83.09,483.88 83.56,483.71 84.02,483.54 84.48,483.39 84.94,483.26 85.40,483.15 85.87,483.04 86.33,482.95 86.79,482.85 87.25,482.75 87.71,482.64 88.18,482.51 88.64,482.36 89.10,482.19 89.56,481.99 90.02,481.75 90.49,481.49 90.95,481.20 91.41,480.87 91.87,480.50 92.33,480.09 92.80,479.64 93.26,479.15 93.72,478.61 94.18,478.02 94.64,477.36 95.11,476.65 95.57,475.87 96.03,475.01 96.49,474.06 96.95,473.02 97.42,471.86 97.88,470.59 98.34,469.18 98.80,467.62 99.26,465.90 99.73,463.99 100.19,461.88 100.65,459.56 101.11,457.03 101.57,454.31 102.04,451.42 102.50,448.46 102.96,445.53 103.42,442.80 103.88,440.47 104.35,438.79 104.81,437.93 105.27,437.90 105.73,438.23 106.19,438.88 106.66,439.81 107.12,441.02 107.58,442.47 108.04,444.14 108.50,446.00 108.97,448.02 109.43,450.15 109.89,452.37 110.35,454.64 110.81,456.93 111.28,459.22 111.74,461.48 112.20,463.68 112.66,465.81 113.12,467.86 113.59,469.81 114.05,471.65 114.51,473.39 114.97,475.00 115.43,476.51 115.90,477.90 116.36,479.18 116.82,480.35 117.28,481.42 117.74,482.40 118.21,483.28 118.67,484.08 119.13,484.80 119.59,485.45 120.05,486.03 120.52,486.55 120.98,487.02 121.44,487.44 121.90,487.81 122.36,488.14 122.83,488.44 123.29,488.70 123.75,488.93 124.21,489.14 124.67,489.33 125.14,489.49 125.60,489.63 126.06,489.76 126.52,489.88 126.98,489.98 127.45,490.07 127.91,490.15 128.37,490.22 128.83,490.28 129.29,490.34 129.76,490.39 130.22,490.43 130.68,490.47 131.14,490.51 131.60,490.54 132.07,490.56 132.53,490.59 132.99,490.61 133.45,490.63 133.91,490.65 134.38,490.66 134.84,490.68 135.30,490.69 135.76,490.70 136.22,490.71 136.69,490.72 137.15,490.73 137.61,490.73 138.07,490.74 138.53,490.75 139.00,490.75 139.46,490.76 139.92,490.76 140.38,490.76 140.84,490.77 141.31,490.77 141.77,490.77 142.23,490.77 142.69,490.78 143.15,490.78 143.62,490.78 144.08,490.78 144.54,490.78 145.00,490.79 145.46,490.79 145.93,490.79 146.39,490.79 146.85,490.79 147.31,490.79 147.77,490.79 148.24,490.79 148.70,490.79 149.16,490.79 149.62,490.79 150.08,490.79 150.55,490.79 151.01,490.80 151.47,490.80 151.93,490.80 152.39,490.80 152.86,490.80 153.32,490.80 153.78,490.80 154.24,490.80 154.70,490.80 155.17,490.80 155.63,490.80 156.09,490.80 156.55,490.80 157.01,490.80 157.48,490.80 157.94,490.80 158.40,490.80 158.86,490.80 159.32,490.80 159.79,490.80 160.25,490.80 160.71,490.80 161.17,490.80 161.63,490.80 162.10,490.80 162.56,490.80 163.02,490.80 163.48,490.80 163.94,490.80 164.41,490.80 164.87,490.80 165.33,490.80 165.79,490.80 166.25,490.80" stroke="#f03c3c" stroke-width="1.3" fill="none" stroke-linejoin="round"/>
<polyline points="19.80,490.80 20.26,490.77 20.72,490.74 21.19,490.70 21.65,490.67 22.11,490.64 22.57,490.60 23.03,490.57 23.50,490.53 23.96,490.50 24.42,490.46 24.88,490.42 25.34,490.38 25.81,490.34 26.27,490.30 26.73,490.26 27.19,490.22 27.65,490.18 28.12,490.13 28.58,490.09 29.04,490.04 29.50,489.99 29.96,489.95 30.43,489.90 30.89,489.85 31.35,489.80 31.81,489.74 32.27,489.69 32.74,489.64 33.20,489.58 33.66,489.52 34.12,489.46 34.58,489.40 35.05,489.34 35.51,489.28 35.97,489.22 36.43,489.15 36.89,489.08 37.36,489.01 37.82,488.94 38.28,488.87 38.74,488.80 39.20,488.72 39.67,488.65 40.13,488.57 40.59,488.49 41.05,488.40 41.51,488.32 41.98,488.23 42.44,488.14 42.90,488.05 43.36,487.96 43.82,487.87 44.29,487.77 44.75,487.67 45.21,487.57 45.67,487.47 46.13,487.36 46.60,487.25 47.06,487.14 47.52,487.03 47.98,486.91 48.44,486.80 48.91,486.68 49.37,486.55 49.83,486.43 50.29,486.30 50.75,486.17 51.22,486.04 51.68,485.90 52.14,485.77 52.60,485.63 53.06,485.48 53.53,485.34 53.99,485.19 54.45,485.04 54.91,484.88 55.37,484.73 55.84,484.57 56.30,484.41 56.76,484.24 57.22,484.07 57.68,483.90 58.15,483.73 58.61,483.55 59.07,483.38 59.53,483.19 59.99,483.01 60.46,482.82 60.92,482.63 61.38,482.44 61.84,482.24 62.30,482.04 62.77,481.83 63.23,481.62 63.69,481.41 64.15,481.19 64.61,480.97 65.08,480.75 65.54,480.51 66.00,480.28 66.46,480.04 66.92,479.79 67.39,479.53 67.85,479.27 68.31,479.00 68.77,478.73 69.23,478.44 69.70,478.14 70.16,477.84 70.62,477.52 71.08,477.19 71.54,476.85 72.01,476.49 72.47,476.14 72.93,475.81 73.39,475.50 73.85,475.20 74.32,474.91 74.78,474.62 75.24,474.32 75.70,474.00 76.16,473.66 76.63,473.28 77.09,472.86 77.55,472.39 78.01,471.86 78.47,471.27 78.94,470.62 79.40,469.89 79.86,469.08 80.32,468.19 80.78,467.21 81.25,466.14 81.71,464.96 82.17,463.67 82.63,462.27 83.09,460.75 83.56,459.11 84.02,457.32 84.48,455.40 84.94,453.33 85.40,451.10 85.87,448.72 86.33,446.18 86.79,443.49 87.25,440.65 87.71,437.66 88.18,434.56 88.64,431.37 89.10,428.12 89.56,424.86 90.02,421.64 90.49,418.54 90.95,415.64 91.41,413.01 91.87,410.74 92.33,408.92 92.80,407.61 93.26,406.87 93.72,406.72 94.18,407.12 94.64,408.00 95.11,409.37 95.57,411.19 96.03,413.43 96.49,416.04 96.95,418.98 97.42,422.20 97.88,425.65 98.34,429.26 98.80,433.00 99.26,436.79 99.73,440.60 100.19,444.38 100.65,448.09 101.11,451.70 101.57,455.17 102.04,458.48 102.50,461.61 102.96,464.56 103.42,467.30 103.88,469.84 104.35,472.18 104.81,474.32 105.27,476.27 105.73,478.03 106.19,479.61 106.66,481.03 107.12,482.29 107.58,483.41 108.04,484.40 108.50,485.27 108.97,486.03 109.43,486.70 109.89,487.28 110.35,487.78 110.81,488.22 111.28,488.60 111.74,488.92 112.20,489.20 112.66,489.44 113.12,489.65 113.59,489.82 114.05,489.97 114.51,490.10 114.97,490.20 115.43,490.29 115.90,490.37 116.36,490.44 116.82,490.49 117.28,490.54 117.74,490.58 118.21,490.61 118.67,490.64 119.13,490.67 119.59,490.69 120.05,490.70 120.52,490.72 120.98,490.73 121.44,490.74 121.90,490.75 122.36,490.76 122.83,490.76 123.29,490.77 123.75,490.77 124.21,490.77 124.67,490.78 125.14,490.78 125.60,490.78 126.06,490.78 126.52,490.79 126.98,490.79 127.45,490.79 127.91,490.79 128.37,490.79 128.83,490.79 129.29,490.79 129.76,490.79 130.22,490.79 130.68,490.79 131.14,490.79 131.60,490.79 132.07,490.79 132.53,490.80 132.99,490.80 133.45,490.80 133.91,490.80 134.38,490.80 134.84,490.80 135.30,490.80 135.76,490.80 136.22,490.80 136.69,490.80 137.15,490.80 137.61,490.80 138.07,490.80 138.53,490.80 139.00,490.80 139.46,490.80 139.92,490.80 140.38,490.80 140.84,490.80 141.31,490.80 141.77,490.80 142.23,490.80 142.69,490.80 143.15,490.80 143.62,490.80 144.08,490.80 144.54,490.80 145.00,490.80 145.46,490.80 145.93,490.80 146.39,490.80 146.85,490.80 147.31,490.80 147.77,490.80 148.24,490.80 148.70,490.80 149.16,490.80 149.62,490.80 150.08,490.80 150.55,490.80 151.01,490.80 151.47,490.80 151.93,490.80 152.39,490.80 152.86,490.80 153.32,490.80 153.78,490.80 154.24,490.80 154.70,490.80 155.17,490.80 155.63,490.80 156.09,490.80 156.55,490.80 157.01,490.80 157.48,490.80 157.94,490.80 158.40,490.80 158.86,490.80 159.32,490.80 159.79,490.80 160.25,490.80 160.71,490.80 161.17,490.80 161.63,490.80 162.10,490.80 162.56,490.80 163.02,490.80 163.48,490.80 163.94,490.80 164.41,490.80 164.87,490.80 165.33,490.80 165.79,490.80 166.25,490.80" stroke="#1f80e8" stroke-width="1.3" fill="none" stroke-linejoin="round"/>
<rect x="19.06" y="377.1" width="147.84" height="119.10" fill="none" stroke="#2a2a2a" stroke-width="1.25"/>
<line x1="19.06" y1="496.20" x2="19.06" y2="493.60" stroke="#2a2a2a" stroke-width="1" />
<line x1="37.54" y1="496.20" x2="37.54" y2="494.40" stroke="#2a2a2a" stroke-width="1" />
<line x1="56.02" y1="496.20" x2="56.02" y2="493.60" stroke="#2a2a2a" stroke-width="1" />
<line x1="74.50" y1="496.20" x2="74.50" y2="494.40" stroke="#2a2a2a" stroke-width="1" />
<line x1="92.98" y1="496.20" x2="92.98" y2="493.60" stroke="#2a2a2a" stroke-width="1" />
<line x1="111.46" y1="496.20" x2="111.46" y2="494.40" stroke="#2a2a2a" stroke-width="1" />
<line x1="129.94" y1="496.20" x2="129.94" y2="493.60" stroke="#2a2a2a" stroke-width="1" />
<line x1="148.42" y1="496.20" x2="148.42" y2="494.40" stroke="#2a2a2a" stroke-width="1" />
<line x1="166.90" y1="496.20" x2="166.90" y2="493.60" stroke="#2a2a2a" stroke-width="1" />
<text x="19.06" y="505.20" font-size="9" text-anchor="middle" font-weight="bold" fill="#000" >200</text>
<text x="56.02" y="505.20" font-size="9" text-anchor="middle" font-weight="bold" fill="#000" >220</text>
<text x="92.98" y="505.20" font-size="9" text-anchor="middle" font-weight="bold" fill="#000" >240</text>
<text x="129.94" y="505.20" font-size="9" text-anchor="middle" font-weight="bold" fill="#000" >260</text>
<text x="166.90" y="505.20" font-size="9" text-anchor="middle" font-weight="bold" fill="#000" >280</text>
<text x="92.98" y="519.90" font-size="10.0" text-anchor="middle" font-weight="bold" fill="#000" >Temperature (°C)</text>
<text transform="translate(14.00,437.55) rotate(-90)" font-size="10.1" font-weight="bold" text-anchor="middle">Heat Flow Exo Up (mW)</text>
<text x="2.40" y="375.20" font-size="12" text-anchor="start" font-weight="normal" fill="#000" >(f)</text>
<text transform="translate(23.8,393.4) scale(1,1.03)" font-size="13.5" font-weight="bold" fill="#f01414" stroke="#f01414" stroke-width="0.27">D</text>
<text x="33.55" y="396.10" font-size="9.18" font-weight="bold" fill="#f01414">IIa</text>
<text x="45.96" y="392.05" font-size="13.5" font-weight="bold" fill="#f01414">’</text>
<line x1="111.00" y1="384.00" x2="125.60" y2="384.00" stroke="#3c3c3c" stroke-width="1.5" />
<text x="126.80" y="386.00" font-size="6.1" text-anchor="start" font-weight="normal" fill="#222" >326-5 °C/min</text>
<line x1="111.00" y1="391.40" x2="125.60" y2="391.40" stroke="#f03c3c" stroke-width="1.5" />
<text x="126.80" y="393.40" font-size="6.1" text-anchor="start" font-weight="normal" fill="#222" >326-10 °C/min</text>
<line x1="111.00" y1="399.40" x2="125.60" y2="399.40" stroke="#1f80e8" stroke-width="1.5" />
<text x="126.80" y="401.40" font-size="6.1" text-anchor="start" font-weight="normal" fill="#222" >326-20 °C/min</text>
<polyline points="209.64,492.60 210.10,492.59 210.55,492.59 211.01,492.58 211.47,492.57 211.93,492.57 212.39,492.56 212.85,492.55 213.31,492.55 213.77,492.54 214.23,492.53 214.69,492.52 215.15,492.52 215.61,492.51 216.07,492.50 216.53,492.49 216.99,492.49 217.45,492.48 217.91,492.47 218.37,492.46 218.83,492.45 219.29,492.45 219.75,492.44 220.21,492.43 220.67,492.42 221.13,492.41 221.59,492.41 222.05,492.40 222.51,492.39 222.97,492.38 223.43,492.37 223.89,492.36 224.35,492.35 224.81,492.34 225.26,492.33 225.72,492.33 226.18,492.32 226.64,492.31 227.10,492.30 227.56,492.29 228.02,492.28 228.48,492.27 228.94,492.26 229.40,492.25 229.86,492.24 230.32,492.22 230.78,492.21 231.24,492.20 231.70,492.19 232.16,492.18 232.62,492.17 233.08,492.16 233.54,492.15 234.00,492.13 234.46,492.12 234.92,492.11 235.38,492.10 235.84,492.08 236.30,492.07 236.76,492.06 237.22,492.05 237.68,492.03 238.14,492.02 238.60,492.00 239.06,491.99 239.52,491.98 239.97,491.96 240.43,491.95 240.89,491.93 241.35,491.92 241.81,491.90 242.27,491.88 242.73,491.87 243.19,491.85 243.65,491.83 244.11,491.82 244.57,491.80 245.03,491.78 245.49,491.76 245.95,491.74 246.41,491.73 246.87,491.71 247.33,491.69 247.79,491.67 248.25,491.65 248.71,491.62 249.17,491.60 249.63,491.58 250.09,491.56 250.55,491.53 251.01,491.51 251.47,491.49 251.93,491.46 252.39,491.44 252.85,491.41 253.31,491.38 253.77,491.36 254.23,491.33 254.68,491.30 255.14,491.27 255.60,491.24 256.06,491.21 256.52,491.18 256.98,491.15 257.44,491.11 257.90,491.08 258.36,491.04 258.82,491.01 259.28,490.97 259.74,490.93 260.20,490.89 260.66,490.85 261.12,490.81 261.58,490.76 262.04,490.72 262.50,490.67 262.96,490.62 263.42,490.57 263.88,490.52 264.34,490.47 264.80,490.41 265.26,490.36 265.72,490.30 266.18,490.24 266.64,490.17 267.10,490.11 267.56,490.04 268.02,489.97 268.48,489.89 268.94,489.81 269.39,489.73 269.85,489.65 270.31,489.56 270.77,489.47 271.23,489.38 271.69,489.28 272.15,489.17 272.61,489.06 273.07,488.95 273.53,488.83 273.99,488.71 274.45,488.57 274.91,488.43 275.37,488.29 275.83,488.13 276.29,487.97 276.75,487.80 277.21,487.62 277.67,487.43 278.13,487.22 278.59,487.01 279.05,486.78 279.51,486.53 279.97,486.27 280.43,486.00 280.89,485.70 281.35,485.38 281.81,485.05 282.27,484.68 282.73,484.29 283.19,483.87 283.65,483.42 284.10,482.93 284.56,482.40 285.02,481.82 285.48,481.20 285.94,480.52 286.40,479.79 286.86,478.99 287.32,478.11 287.78,477.16 288.24,476.12 288.70,474.99 289.16,473.75 289.62,472.41 290.08,470.95 290.54,469.38 291.00,467.70 291.46,465.92 291.92,464.06 292.38,462.15 292.84,460.24 293.30,458.39 293.76,456.69 294.22,455.23 294.68,454.09 295.14,453.37 295.60,453.12 296.06,453.37 296.52,454.12 296.98,455.34 297.44,456.95 297.90,458.88 298.36,461.05 298.81,463.38 299.27,465.79 299.73,468.20 300.19,470.56 300.65,472.81 301.11,474.93 301.57,476.90 302.03,478.71 302.49,480.34 302.95,481.81 303.41,483.13 303.87,484.29 304.33,485.32 304.79,486.22 305.25,487.01 305.71,487.71 306.17,488.31 306.63,488.84 307.09,489.30 307.55,489.70 308.01,490.05 308.47,490.35 308.93,490.62 309.39,490.85 309.85,491.05 310.31,491.23 310.77,491.38 311.23,491.52 311.69,491.63 312.15,491.74 312.61,491.83 313.07,491.91 313.52,491.98 313.98,492.05 314.44,492.10 314.90,492.15 315.36,492.20 315.82,492.24 316.28,492.27 316.74,492.30 317.20,492.33 317.66,492.35 318.12,492.38 318.58,492.40 319.04,492.41 319.50,492.43 319.96,492.44 320.42,492.46 320.88,492.47 321.34,492.48 321.80,492.49 322.26,492.50 322.72,492.51 323.18,492.51 323.64,492.52 324.10,492.53 324.56,492.53 325.02,492.54 325.48,492.54 325.94,492.55 326.40,492.55 326.86,492.55 327.32,492.56 327.78,492.56 328.23,492.56 328.69,492.56 329.15,492.57 329.61,492.57 330.07,492.57 330.53,492.57 330.99,492.58 331.45,492.58 331.91,492.58 332.37,492.58 332.83,492.58 333.29,492.58 333.75,492.58 334.21,492.58 334.67,492.58 335.13,492.59 335.59,492.59 336.05,492.59 336.51,492.59 336.97,492.59 337.43,492.59 337.89,492.59 338.35,492.59 338.81,492.59 339.27,492.59 339.73,492.59 340.19,492.59 340.65,492.59 341.11,492.59 341.57,492.59 342.03,492.59 342.49,492.59 342.94,492.59 343.40,492.59 343.86,492.59 344.32,492.60 344.78,492.60 345.24,492.60 345.70,492.60 346.16,492.60 346.62,492.60 347.08,492.60 347.54,492.60 348.00,492.60 348.46,492.60 348.92,492.60 349.38,492.60 349.84,492.60 350.30,492.60 350.76,492.60 351.22,492.60 351.68,492.60 352.14,492.60 352.60,492.60 353.06,492.60 353.52,492.60 353.98,492.60 354.44,492.60 354.90,492.60 355.36,492.60" stroke="#3c3c3c" stroke-width="1.3" fill="none" stroke-linejoin="round"/>
<polyline points="209.64,492.60 210.10,492.59 210.55,492.57 211.01,492.56 211.47,492.54 211.93,492.53 212.39,492.51 212.85,492.50 213.31,492.48 213.77,492.47 214.23,492.45 214.69,492.44 215.15,492.42 215.61,492.41 216.07,492.39 216.53,492.37 216.99,492.36 217.45,492.34 217.91,492.32 218.37,492.31 218.83,492.29 219.29,492.27 219.75,492.26 220.21,492.24 220.67,492.22 221.13,492.20 221.59,492.19 222.05,492.17 222.51,492.15 222.97,492.13 223.43,492.11 223.89,492.09 224.35,492.07 224.81,492.05 225.26,492.03 225.72,492.01 226.18,491.99 226.64,491.97 227.10,491.95 227.56,491.93 228.02,491.91 228.48,491.89 228.94,491.87 229.40,491.84 229.86,491.82 230.32,491.80 230.78,491.78 231.24,491.75 231.70,491.73 232.16,491.70 232.62,491.68 233.08,491.65 233.54,491.63 234.00,491.60 234.46,491.58 234.92,491.55 235.38,491.52 235.84,491.49 236.30,491.47 236.76,491.44 237.22,491.41 237.68,491.38 238.14,491.35 238.60,491.32 239.06,491.29 239.52,491.26 239.97,491.22 240.43,491.19 240.89,491.16 241.35,491.12 241.81,491.09 242.27,491.05 242.73,491.01 243.19,490.98 243.65,490.94 244.11,490.90 244.57,490.86 245.03,490.82 245.49,490.78 245.95,490.73 246.41,490.69 246.87,490.64 247.33,490.60 247.79,490.55 248.25,490.50 248.71,490.45 249.17,490.40 249.63,490.35 250.09,490.30 250.55,490.24 251.01,490.19 251.47,490.13 251.93,490.07 252.39,490.01 252.85,489.94 253.31,489.88 253.77,489.81 254.23,489.74 254.68,489.67 255.14,489.60 255.60,489.52 256.06,489.44 256.52,489.36 256.98,489.27 257.44,489.19 257.90,489.10 258.36,489.00 258.82,488.91 259.28,488.80 259.74,488.70 260.20,488.59 260.66,488.48 261.12,488.36 261.58,488.23 262.04,488.10 262.50,487.97 262.96,487.83 263.42,487.68 263.88,487.53 264.34,487.37 264.80,487.20 265.26,487.02 265.72,486.83 266.18,486.63 266.64,486.43 267.10,486.21 267.56,485.98 268.02,485.73 268.48,485.47 268.94,485.19 269.39,484.90 269.85,484.59 270.31,484.26 270.77,483.90 271.23,483.52 271.69,483.11 272.15,482.67 272.61,482.20 273.07,481.69 273.53,481.13 273.99,480.53 274.45,479.88 274.91,479.17 275.37,478.40 275.83,477.54 276.29,476.61 276.75,475.58 277.21,474.44 277.67,473.17 278.13,471.76 278.59,470.19 279.05,468.44 279.51,466.48 279.97,464.29 280.43,461.83 280.89,459.10 281.35,456.08 281.81,452.78 282.27,449.24 282.73,445.56 283.19,441.92 283.65,438.56 284.10,435.82 284.56,434.02 285.02,433.43 285.48,433.73 285.94,434.57 286.40,435.91 286.86,437.72 287.32,439.94 287.78,442.50 288.24,445.34 288.70,448.36 289.16,451.51 289.62,454.71 290.08,457.90 290.54,461.03 291.00,464.05 291.46,466.93 291.92,469.64 292.38,472.16 292.84,474.48 293.30,476.60 293.76,478.53 294.22,480.26 294.68,481.81 295.14,483.19 295.60,484.41 296.06,485.49 296.52,486.43 296.98,487.26 297.44,487.98 297.90,488.61 298.36,489.15 298.81,489.62 299.27,490.03 299.73,490.38 300.19,490.69 300.65,490.95 301.11,491.18 301.57,491.37 302.03,491.54 302.49,491.68 302.95,491.80 303.41,491.91 303.87,492.00 304.33,492.08 304.79,492.15 305.25,492.21 305.71,492.26 306.17,492.30 306.63,492.34 307.09,492.38 307.55,492.40 308.01,492.43 308.47,492.45 308.93,492.47 309.39,492.48 309.85,492.50 310.31,492.51 310.77,492.52 311.23,492.53 311.69,492.54 312.15,492.55 312.61,492.55 313.07,492.56 313.52,492.56 313.98,492.57 314.44,492.57 314.90,492.57 315.36,492.58 315.82,492.58 316.28,492.58 316.74,492.58 317.20,492.59 317.66,492.59 318.12,492.59 318.58,492.59 319.04,492.59 319.50,492.59 319.96,492.59 320.42,492.59 320.88,492.59 321.34,492.59 321.80,492.59 322.26,492.60 322.72,492.60 323.18,492.60 323.64,492.60 324.10,492.60 324.56,492.60 325.02,492.60 325.48,492.60 325.94,492.60 326.40,492.60 326.86,492.60 327.32,492.60 327.78,492.60 328.23,492.60 328.69,492.60 329.15,492.60 329.61,492.60 330.07,492.60 330.53,492.60 330.99,492.60 331.45,492.60 331.91,492.60 332.37,492.60 332.83,492.60 333.29,492.60 333.75,492.60 334.21,492.60 334.67,492.60 335.13,492.60 335.59,492.60 336.05,492.60 336.51,492.60 336.97,492.60 337.43,492.60 337.89,492.60 338.35,492.60 338.81,492.60 339.27,492.60 339.73,492.60 340.19,492.60 340.65,492.60 341.11,492.60 341.57,492.60 342.03,492.60 342.49,492.60 342.94,492.60 343.40,492.60 343.86,492.60 344.32,492.60 344.78,492.60 345.24,492.60 345.70,492.60 346.16,492.60 346.62,492.60 347.08,492.60 347.54,492.60 348.00,492.60 348.46,492.60 348.92,492.60 349.38,492.60 349.84,492.60 350.30,492.60 350.76,492.60 351.22,492.60 351.68,492.60 352.14,492.60 352.60,492.60 353.06,492.60 353.52,492.60 353.98,492.60 354.44,492.60 354.90,492.60 355.36,492.60" stroke="#f03c3c" stroke-width="1.3" fill="none" stroke-linejoin="round"/>
<polyline points="209.64,492.60 210.10,492.57 210.55,492.53 211.01,492.50 211.47,492.46 211.93,492.42 212.39,492.38 212.85,492.35 213.31,492.31 213.77,492.26 214.23,492.22 214.69,492.18 215.15,492.14 215.61,492.09 216.07,492.04 216.53,492.00 216.99,491.95 217.45,491.90 217.91,491.85 218.37,491.79 218.83,491.74 219.29,491.68 219.75,491.62 220.21,491.57 220.67,491.50 221.13,491.44 221.59,491.38 222.05,491.31 222.51,491.24 222.97,491.17 223.43,491.10 223.89,491.02 224.35,490.94 224.81,490.86 225.26,490.78 225.72,490.70 226.18,490.61 226.64,490.52 227.10,490.42 227.56,490.33 228.02,490.23 228.48,490.12 228.94,490.02 229.40,489.91 229.86,489.79 230.32,489.68 230.78,489.55 231.24,489.43 231.70,489.30 232.16,489.17 232.62,489.03 233.08,488.89 233.54,488.74 234.00,488.59 234.46,488.43 234.92,488.27 235.38,488.11 235.84,487.94 236.30,487.76 236.76,487.58 237.22,487.39 237.68,487.20 238.14,487.00 238.60,486.80 239.06,486.59 239.52,486.38 239.97,486.16 240.43,485.93 240.89,485.70 241.35,485.46 241.81,485.22 242.27,484.97 242.73,484.71 243.19,484.45 243.65,484.18 244.11,483.91 244.57,483.63 245.03,483.34 245.49,483.05 245.95,482.75 246.41,482.44 246.87,482.13 247.33,481.82 247.79,481.49 248.25,481.16 248.71,480.82 249.17,480.48 249.63,480.12 250.09,479.76 250.55,479.39 251.01,479.01 251.47,478.62 251.93,478.22 252.39,477.81 252.85,477.38 253.31,476.94 253.77,476.48 254.23,476.01 254.68,475.52 255.14,475.00 255.60,474.46 256.06,473.89 256.52,473.30 256.98,472.70 257.44,472.08 257.90,471.44 258.36,470.76 258.82,470.05 259.28,469.29 259.74,468.47 260.20,467.58 260.66,466.62 261.12,465.57 261.58,464.41 262.04,463.15 262.50,461.75 262.96,460.22 263.42,458.52 263.88,456.66 264.34,454.60 264.80,452.35 265.26,449.88 265.72,447.19 266.18,444.26 266.64,441.10 267.10,437.71 267.56,434.10 268.02,430.29 268.48,426.35 268.94,422.33 269.39,418.31 269.85,414.41 270.31,410.76 270.77,407.50 271.23,404.78 271.69,402.75 272.15,401.52 272.61,401.17 273.07,401.59 273.53,402.65 273.99,404.33 274.45,406.59 274.91,409.37 275.37,412.63 275.83,416.28 276.29,420.26 276.75,424.49 277.21,428.89 277.67,433.39 278.13,437.91 278.59,442.40 279.05,446.79 279.51,451.04 279.97,455.10 280.43,458.95 280.89,462.56 281.35,465.92 281.81,469.01 282.27,471.84 282.73,474.41 283.19,476.73 283.65,478.80 284.10,480.65 284.56,482.29 285.02,483.73 285.48,484.99 285.94,486.08 286.40,487.04 286.86,487.86 287.32,488.57 287.78,489.18 288.24,489.70 288.70,490.14 289.16,490.52 289.62,490.84 290.08,491.11 290.54,491.34 291.00,491.53 291.46,491.69 291.92,491.83 292.38,491.94 292.84,492.04 293.30,492.12 293.76,492.19 294.22,492.24 294.68,492.29 295.14,492.33 295.60,492.36 296.06,492.39 296.52,492.42 296.98,492.44 297.44,492.45 297.90,492.47 298.36,492.48 298.81,492.49 299.27,492.50 299.73,492.51 300.19,492.52 300.65,492.52 301.11,492.53 301.57,492.53 302.03,492.54 302.49,492.54 302.95,492.54 303.41,492.55 303.87,492.55 304.33,492.55 304.79,492.55 305.25,492.55 305.71,492.56 306.17,492.56 306.63,492.56 307.09,492.56 307.55,492.56 308.01,492.56 308.47,492.57 308.93,492.57 309.39,492.57 309.85,492.57 310.31,492.57 310.77,492.57 311.23,492.57 311.69,492.57 312.15,492.57 312.61,492.57 313.07,492.58 313.52,492.58 313.98,492.58 314.44,492.58 314.90,492.58 315.36,492.58 315.82,492.58 316.28,492.58 316.74,492.58 317.20,492.58 317.66,492.58 318.12,492.58 318.58,492.58 319.04,492.58 319.50,492.58 319.96,492.58 320.42,492.58 320.88,492.58 321.34,492.59 321.80,492.59 322.26,492.59 322.72,492.59 323.18,492.59 323.64,492.59 324.10,492.59 324.56,492.59 325.02,492.59 325.48,492.59 325.94,492.59 326.40,492.59 326.86,492.59 327.32,492.59 327.78,492.59 328.23,492.59 328.69,492.59 329.15,492.59 329.61,492.59 330.07,492.59 330.53,492.59 330.99,492.59 331.45,492.59 331.91,492.59 332.37,492.59 332.83,492.59 333.29,492.59 333.75,492.59 334.21,492.59 334.67,492.59 335.13,492.59 335.59,492.59 336.05,492.59 336.51,492.59 336.97,492.59 337.43,492.59 337.89,492.59 338.35,492.59 338.81,492.59 339.27,492.59 339.73,492.59 340.19,492.59 340.65,492.59 341.11,492.59 341.57,492.59 342.03,492.59 342.49,492.59 342.94,492.60 343.40,492.60 343.86,492.60 344.32,492.60 344.78,492.60 345.24,492.60 345.70,492.60 346.16,492.60 346.62,492.60 347.08,492.60 347.54,492.60 348.00,492.60 348.46,492.60 348.92,492.60 349.38,492.60 349.84,492.60 350.30,492.60 350.76,492.60 351.22,492.60 351.68,492.60 352.14,492.60 352.60,492.60 353.06,492.60 353.52,492.60 353.98,492.60 354.44,492.60 354.90,492.60 355.36,492.60" stroke="#1f80e8" stroke-width="1.3" fill="none" stroke-linejoin="round"/>
<rect x="208.9" y="379.2" width="147.10" height="118.80" fill="none" stroke="#2a2a2a" stroke-width="1.25"/>
<line x1="208.90" y1="498.00" x2="208.90" y2="495.40" stroke="#2a2a2a" stroke-width="1" />
<line x1="227.29" y1="498.00" x2="227.29" y2="496.20" stroke="#2a2a2a" stroke-width="1" />
<line x1="245.68" y1="498.00" x2="245.68" y2="495.40" stroke="#2a2a2a" stroke-width="1" />
<line x1="264.06" y1="498.00" x2="264.06" y2="496.20" stroke="#2a2a2a" stroke-width="1" />
<line x1="282.45" y1="498.00" x2="282.45" y2="495.40" stroke="#2a2a2a" stroke-width="1" />
<line x1="300.84" y1="498.00" x2="300.84" y2="496.20" stroke="#2a2a2a" stroke-width="1" />
<line x1="319.23" y1="498.00" x2="319.23" y2="495.40" stroke="#2a2a2a" stroke-width="1" />
<line x1="337.61" y1="498.00" x2="337.61" y2="496.20" stroke="#2a2a2a" stroke-width="1" />
<line x1="356.00" y1="498.00" x2="356.00" y2="495.40" stroke="#2a2a2a" stroke-width="1" />
<line x1="208.90" y1="393.60" x2="210.70" y2="393.60" stroke="#2a2a2a" stroke-width="1" />
<line x1="208.90" y1="407.80" x2="211.50" y2="407.80" stroke="#2a2a2a" stroke-width="1" />
<line x1="208.90" y1="422.00" x2="210.70" y2="422.00" stroke="#2a2a2a" stroke-width="1" />
<line x1="208.90" y1="436.20" x2="211.50" y2="436.20" stroke="#2a2a2a" stroke-width="1" />
<line x1="208.90" y1="450.40" x2="210.70" y2="450.40" stroke="#2a2a2a" stroke-width="1" />
<line x1="208.90" y1="464.60" x2="211.50" y2="464.60" stroke="#2a2a2a" stroke-width="1" />
<line x1="208.90" y1="478.80" x2="210.70" y2="478.80" stroke="#2a2a2a" stroke-width="1" />
<line x1="208.90" y1="493.00" x2="211.50" y2="493.00" stroke="#2a2a2a" stroke-width="1" />
<text x="208.90" y="507.10" font-size="9" text-anchor="middle" font-weight="bold" fill="#000" >200</text>
<text x="245.68" y="507.10" font-size="9" text-anchor="middle" font-weight="bold" fill="#000" >220</text>
<text x="282.45" y="507.10" font-size="9" text-anchor="middle" font-weight="bold" fill="#000" >240</text>
<text x="319.23" y="507.10" font-size="9" text-anchor="middle" font-weight="bold" fill="#000" >260</text>
<text x="356.00" y="507.10" font-size="9" text-anchor="middle" font-weight="bold" fill="#000" >280</text>
<text x="282.45" y="518.50" font-size="10.0" text-anchor="middle" font-weight="bold" fill="#000" >Temperature (°C)</text>
<text transform="translate(200.20,439.20) rotate(-90)" font-size="10.1" font-weight="bold" text-anchor="middle">Heat Flow Exo Up (mW)</text>
<text x="191.00" y="375.20" font-size="12" text-anchor="start" font-weight="normal" fill="#000" >(g)</text>
<text transform="translate(214.9,394.7) scale(1,1.03)" font-size="13.5" font-weight="bold" fill="#f01414" stroke="#f01414" stroke-width="0.27">D</text>
<text x="224.65" y="397.40" font-size="9.18" font-weight="bold" fill="#f01414">IIa</text>
<text x="237.06" y="393.35" font-size="13.5" font-weight="bold" fill="#f01414">’</text>
<line x1="300.00" y1="385.60" x2="314.00" y2="385.60" stroke="#3c3c3c" stroke-width="1.5" />
<text x="315.20" y="387.60" font-size="6.1" text-anchor="start" font-weight="normal" fill="#222" >335-5 °C/min</text>
<line x1="300.00" y1="393.00" x2="314.00" y2="393.00" stroke="#f03c3c" stroke-width="1.5" />
<text x="315.20" y="395.00" font-size="6.1" text-anchor="start" font-weight="normal" fill="#222" >335-10 °C/min</text>
<line x1="300.00" y1="400.60" x2="314.00" y2="400.60" stroke="#1f80e8" stroke-width="1.5" />
<text x="315.20" y="402.60" font-size="6.1" text-anchor="start" font-weight="normal" fill="#222" >335-20 °C/min</text>
<defs><linearGradient id="gp" x1="391.4" x2="422" y1="0" y2="0" gradientUnits="userSpaceOnUse"><stop offset="0" stop-color="#f050f4"/><stop offset="0.4" stop-color="#c8a0f0"/><stop offset="0.74" stop-color="#c8d8f4"/><stop offset="0.86" stop-color="#50c8a8"/><stop offset="0.95" stop-color="#00e840"/><stop offset="1" stop-color="#00e840"/></linearGradient><linearGradient id="go" x1="500" x2="544" y1="0" y2="0" gradientUnits="userSpaceOnUse"><stop offset="0" stop-color="#feead9"/><stop offset="0.5" stop-color="#fcc4ab"/><stop offset="0.85" stop-color="#f99080"/><stop offset="1" stop-color="#f76a64"/></linearGradient></defs>
<polygon points="391.4,378.4 422,378.4 422,467 391.4,439" fill="url(#gp)"/>
<polygon points="422,378.4 500,378.4 500,470 422,467.5" fill="#fdf7da"/>
<polygon points="500,378.4 544,422.4 544,501 519,501 500,474" fill="url(#go)"/>
<line x1="421.60" y1="467.00" x2="421.60" y2="501.00" stroke="#777" stroke-width="0.8" stroke-dasharray="2.5,2"/>
<line x1="500.00" y1="378.40" x2="500.00" y2="501.00" stroke="#777" stroke-width="0.8" stroke-dasharray="2.5,2"/>
<rect x="391.4" y="378.4" width="152.60000000000002" height="122.60000000000002" fill="none" stroke="#000" stroke-width="1.4"/>
<line x1="391.40" y1="501.00" x2="391.40" y2="498.50" stroke="#000" stroke-width="0.9" />
<line x1="404.12" y1="501.00" x2="404.12" y2="499.40" stroke="#000" stroke-width="0.9" />
<line x1="416.83" y1="501.00" x2="416.83" y2="498.50" stroke="#000" stroke-width="0.9" />
<line x1="429.55" y1="501.00" x2="429.55" y2="499.40" stroke="#000" stroke-width="0.9" />
<line x1="442.27" y1="501.00" x2="442.27" y2="498.50" stroke="#000" stroke-width="0.9" />
<line x1="454.98" y1="501.00" x2="454.98" y2="499.40" stroke="#000" stroke-width="0.9" />
<line x1="467.70" y1="501.00" x2="467.70" y2="498.50" stroke="#000" stroke-width="0.9" />
<line x1="480.42" y1="501.00" x2="480.42" y2="499.40" stroke="#000" stroke-width="0.9" />
<line x1="493.13" y1="501.00" x2="493.13" y2="498.50" stroke="#000" stroke-width="0.9" />
<line x1="505.85" y1="501.00" x2="505.85" y2="499.40" stroke="#000" stroke-width="0.9" />
<line x1="518.57" y1="501.00" x2="518.57" y2="498.50" stroke="#000" stroke-width="0.9" />
<line x1="531.28" y1="501.00" x2="531.28" y2="499.40" stroke="#000" stroke-width="0.9" />
<line x1="544.00" y1="501.00" x2="544.00" y2="498.50" stroke="#000" stroke-width="0.9" />
<text x="391.40" y="508.50" font-size="6.3" text-anchor="middle" font-weight="normal" fill="#222" stroke="#222" stroke-width="0.1">280</text>
<text x="416.83" y="508.50" font-size="6.3" text-anchor="middle" font-weight="normal" fill="#222" stroke="#222" stroke-width="0.1">290</text>
<text x="442.27" y="508.50" font-size="6.3" text-anchor="middle" font-weight="normal" fill="#222" stroke="#222" stroke-width="0.1">300</text>
<text x="467.70" y="508.50" font-size="6.3" text-anchor="middle" font-weight="normal" fill="#222" stroke="#222" stroke-width="0.1">310</text>
<text x="493.13" y="508.50" font-size="6.3" text-anchor="middle" font-weight="normal" fill="#222" stroke="#222" stroke-width="0.1">320</text>
<text x="518.57" y="508.50" font-size="6.3" text-anchor="middle" font-weight="normal" fill="#222" stroke="#222" stroke-width="0.1">330</text>
<text x="544.00" y="508.50" font-size="6.3" text-anchor="middle" font-weight="normal" fill="#222" stroke="#222" stroke-width="0.1">340</text>
<line x1="391.40" y1="488.66" x2="393.90" y2="488.66" stroke="#000" stroke-width="0.9" />
<line x1="391.40" y1="476.33" x2="393.00" y2="476.33" stroke="#000" stroke-width="0.9" />
<line x1="391.40" y1="464.00" x2="393.90" y2="464.00" stroke="#000" stroke-width="0.9" />
<line x1="391.40" y1="451.66" x2="393.00" y2="451.66" stroke="#000" stroke-width="0.9" />
<line x1="391.40" y1="439.33" x2="393.90" y2="439.33" stroke="#000" stroke-width="0.9" />
<line x1="391.40" y1="427.00" x2="393.00" y2="427.00" stroke="#000" stroke-width="0.9" />
<line x1="391.40" y1="414.67" x2="393.90" y2="414.67" stroke="#000" stroke-width="0.9" />
<line x1="391.40" y1="402.33" x2="393.00" y2="402.33" stroke="#000" stroke-width="0.9" />
<line x1="391.40" y1="390.00" x2="393.90" y2="390.00" stroke="#000" stroke-width="0.9" />
<text x="388.20" y="490.86" font-size="6.3" text-anchor="end" font-weight="normal" fill="#222" stroke="#222" stroke-width="0.1">235</text>
<text x="388.20" y="466.19" font-size="6.3" text-anchor="end" font-weight="normal" fill="#222" stroke="#222" stroke-width="0.1">240</text>
<text x="388.20" y="441.53" font-size="6.3" text-anchor="end" font-weight="normal" fill="#222" stroke="#222" stroke-width="0.1">245</text>
<text x="388.20" y="416.87" font-size="6.3" text-anchor="end" font-weight="normal" fill="#222" stroke="#222" stroke-width="0.1">250</text>
<text x="388.20" y="392.20" font-size="6.3" text-anchor="end" font-weight="normal" fill="#222" stroke="#222" stroke-width="0.1">255</text>
<text transform="translate(373.3,438.75) rotate(-90)" font-size="10.3" font-weight="bold" text-anchor="middle"><tspan font-style="italic">T</tspan><tspan font-size="6.5" dy="2">c</tspan><tspan dy="-2"> (°C)</tspan></text>
<text x="468" y="522.5" font-size="10.3" font-weight="bold" text-anchor="middle"><tspan font-style="italic">T</tspan><tspan font-size="6.5" dy="2">s</tspan><tspan dy="-2"> (°C)</tspan></text>
<text x="367.00" y="374.50" font-size="11" text-anchor="start" font-weight="normal" fill="#000" >(h)</text>
<text transform="translate(405.5,372.6) scale(1,1.03)" font-size="12" font-weight="bold" fill="#000" stroke="#000" stroke-width="0.24">D</text>
<text x="414.16" y="374.64" font-size="7.20" font-weight="bold" fill="#000">II</text>
<text transform="translate(459.3,372.6) scale(1,1.03)" font-size="12" font-weight="bold" fill="#000" stroke="#000" stroke-width="0.24">D</text>
<text x="467.96" y="374.64" font-size="7.20" font-weight="bold" fill="#000">II</text>
<text x="474.17" y="371.40" font-size="12" font-weight="bold" fill="#000">’</text>
<text transform="translate(518.4,372.6) scale(1,1.03)" font-size="12" font-weight="bold" fill="#000" stroke="#000" stroke-width="0.24">D</text>
<text x="527.06" y="374.64" font-size="7.20" font-weight="bold" fill="#000">IIa</text>
<text x="536.87" y="371.40" font-size="12" font-weight="bold" fill="#000">’</text>
<rect x="404.46" y="385.33" width="4.4" height="4.4" fill="#454545"/>
<circle cx="406.66" cy="409.73" r="2.5" fill="#f03030"/>
<path d="M406.66,434.06 L409.46,438.86 L403.86,438.86 Z" fill="#1a78e6"/>
<rect x="427.35" y="399.64" width="4.4" height="4.4" fill="#454545"/>
<circle cx="429.55" cy="423.05" r="2.5" fill="#f03030"/>
<path d="M429.55,449.36 L432.35,454.16 L426.75,454.16 Z" fill="#1a78e6"/>
<rect x="478.22" y="396.68" width="4.4" height="4.4" fill="#454545"/>
<circle cx="480.42" cy="423.54" r="2.5" fill="#f03030"/>
<path d="M480.42,448.37 L483.22,453.17 L477.62,453.17 Z" fill="#1a78e6"/>
<rect x="506.19" y="402.60" width="4.4" height="4.4" fill="#454545"/>
<circle cx="508.39" cy="431.44" r="2.5" fill="#f03030"/>
<path d="M508.39,459.22 L511.19,464.02 L505.59,464.02 Z" fill="#1a78e6"/>
<rect x="529.08" y="425.29" width="4.4" height="4.4" fill="#454545"/>
<circle cx="531.28" cy="457.09" r="2.5" fill="#f03030"/>
<path d="M531.28,485.86 L534.08,490.66 L528.48,490.66 Z" fill="#1a78e6"/>
<rect x="394.4" y="481.1" width="3.6" height="3.9" fill="#454545"/>
<circle cx="396.3" cy="489.5" r="2.2" fill="#f03030"/>
<path d="M396.5,493.6 L399.2,497.9 L393.8,497.9 Z" fill="#1a78e6"/>
<text x="402.70" y="485.20" font-size="5.3" text-anchor="start" font-weight="normal" fill="#333" stroke="#333" stroke-width="0.12">5°C/min</text>
<text x="402.70" y="491.60" font-size="5.3" text-anchor="start" font-weight="normal" fill="#333" stroke="#333" stroke-width="0.12">10°C/min</text>
<text x="402.70" y="497.80" font-size="5.3" text-anchor="start" font-weight="normal" fill="#333" stroke="#333" stroke-width="0.12">20°C/min</text>
</svg></body></html>
